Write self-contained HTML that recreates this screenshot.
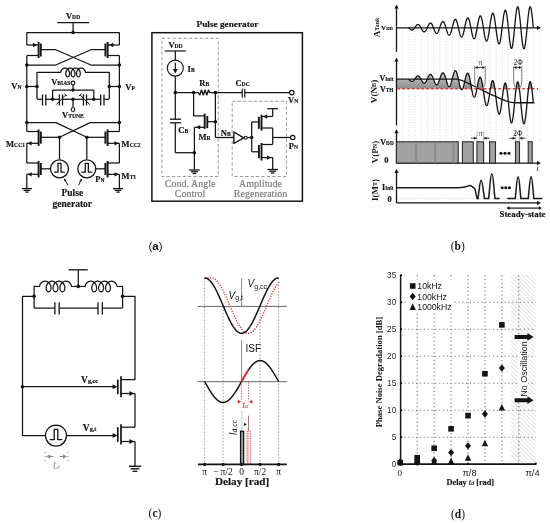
<!DOCTYPE html>
<html><head><meta charset="utf-8"><title>Figure</title>
<style>html,body{margin:0;padding:0;background:#fff;overflow:hidden;}svg{display:block;}</style>
</head><body>
<svg width="550" height="523" viewBox="0 0 550 523" stroke-linecap="butt">
<text x="73.1" y="19.2" font-family="'Liberation Serif', serif" font-size="8.5" font-weight="bold" font-style="normal" text-anchor="middle" fill="#141414" stroke="#141414" stroke-width="0.16">V<tspan font-size="66%">DD</tspan></text>
<line x1="57.3" y1="22.6" x2="89.2" y2="22.6" stroke="#141414" stroke-width="1.2"/>
<line x1="73.1" y1="22.6" x2="73.1" y2="32.5" stroke="#141414" stroke-width="1.25"/>
<circle cx="73.1" cy="32.5" r="1.8" fill="#141414"/>
<line x1="26.8" y1="32.5" x2="119.4" y2="32.5" stroke="#141414" stroke-width="1.25"/>
<line x1="26.8" y1="32.5" x2="26.8" y2="45" stroke="#141414" stroke-width="1.25"/>
<line x1="26.8" y1="45" x2="38.6" y2="45" stroke="#141414" stroke-width="1.25"/>
<path d="M37.1,45 L32.9,47.2 L32.9,42.8 Z" fill="#141414"/>
<line x1="38.6" y1="42" x2="38.6" y2="58" stroke="#141414" stroke-width="1.9"/>
<line x1="40.8" y1="43.5" x2="40.8" y2="56.5" stroke="#141414" stroke-width="1.9"/>
<line x1="38.6" y1="55.5" x2="26.8" y2="55.5" stroke="#141414" stroke-width="1.25"/>
<line x1="26.8" y1="55.5" x2="26.8" y2="131.5" stroke="#141414" stroke-width="1.25"/>
<line x1="26.8" y1="131.5" x2="38.6" y2="131.5" stroke="#141414" stroke-width="1.25"/>
<line x1="38.6" y1="129.4" x2="38.6" y2="145.9" stroke="#141414" stroke-width="1.9"/>
<line x1="40.8" y1="131.5" x2="40.8" y2="143.7" stroke="#141414" stroke-width="1.9"/>
<line x1="38.6" y1="143.3" x2="26.8" y2="143.3" stroke="#141414" stroke-width="1.25"/>
<path d="M27.5,143.3 L31.7,141.2 L31.7,145.4 Z" fill="#141414"/>
<line x1="26.8" y1="143.3" x2="26.8" y2="163" stroke="#141414" stroke-width="1.25"/>
<line x1="26.8" y1="163" x2="38.6" y2="163" stroke="#141414" stroke-width="1.25"/>
<line x1="38.6" y1="161" x2="38.6" y2="177.4" stroke="#141414" stroke-width="1.9"/>
<line x1="40.8" y1="163" x2="40.8" y2="175" stroke="#141414" stroke-width="1.9"/>
<line x1="38.6" y1="174.3" x2="26.8" y2="174.3" stroke="#141414" stroke-width="1.25"/>
<path d="M27.5,174.3 L31.7,172.2 L31.7,176.4 Z" fill="#141414"/>
<line x1="26.8" y1="174.3" x2="26.8" y2="188.5" stroke="#141414" stroke-width="1.25"/>
<line x1="22" y1="188.6" x2="32" y2="188.6" stroke="#141414" stroke-width="1.3"/>
<line x1="23.7" y1="190.35" x2="30.3" y2="190.35" stroke="#141414" stroke-width="1.3"/>
<line x1="25.3" y1="192.1" x2="28.7" y2="192.1" stroke="#141414" stroke-width="1.3"/>
<line x1="40.8" y1="137.3" x2="59.5" y2="137.3" stroke="#141414" stroke-width="1.25"/>
<circle cx="59.5" cy="137.3" r="1.8" fill="#141414"/>
<line x1="59.5" y1="137.3" x2="59.5" y2="159.8" stroke="#141414" stroke-width="1.25"/>
<circle cx="59.5" cy="168.8" r="9" fill="#fff" stroke="#141414" stroke-width="1.35"/>
<path d="M54.1,172.22 L57.97,172.22 L57.97,163.4 L61.03,163.4 L61.03,172.22 L64.9,172.22" fill="none" stroke="#141414" stroke-width="1.3" stroke-linejoin="round" stroke-linejoin="miter"/>
<line x1="40.8" y1="168.8" x2="50.5" y2="168.8" stroke="#141414" stroke-width="1.25"/>
<circle cx="26.8" cy="65" r="1.8" fill="#141414"/>
<circle cx="26.8" cy="86.5" r="1.8" fill="#141414"/>
<circle cx="26.8" cy="122.6" r="1.8" fill="#141414"/>
<line x1="119.4" y1="32.5" x2="119.4" y2="45" stroke="#141414" stroke-width="1.25"/>
<line x1="119.4" y1="45" x2="107.6" y2="45" stroke="#141414" stroke-width="1.25"/>
<path d="M109.1,45 L113.3,42.8 L113.3,47.2 Z" fill="#141414"/>
<line x1="107.6" y1="42" x2="107.6" y2="58" stroke="#141414" stroke-width="1.9"/>
<line x1="105.4" y1="43.5" x2="105.4" y2="56.5" stroke="#141414" stroke-width="1.9"/>
<line x1="107.6" y1="55.5" x2="119.4" y2="55.5" stroke="#141414" stroke-width="1.25"/>
<line x1="119.4" y1="55.5" x2="119.4" y2="131.5" stroke="#141414" stroke-width="1.25"/>
<line x1="119.4" y1="131.5" x2="107.6" y2="131.5" stroke="#141414" stroke-width="1.25"/>
<line x1="107.6" y1="129.4" x2="107.6" y2="145.9" stroke="#141414" stroke-width="1.9"/>
<line x1="105.4" y1="131.5" x2="105.4" y2="143.7" stroke="#141414" stroke-width="1.9"/>
<line x1="107.6" y1="143.3" x2="119.4" y2="143.3" stroke="#141414" stroke-width="1.25"/>
<path d="M118.7,143.3 L114.5,145.4 L114.5,141.2 Z" fill="#141414"/>
<line x1="119.4" y1="143.3" x2="119.4" y2="163" stroke="#141414" stroke-width="1.25"/>
<line x1="119.4" y1="163" x2="107.6" y2="163" stroke="#141414" stroke-width="1.25"/>
<line x1="107.6" y1="161" x2="107.6" y2="177.4" stroke="#141414" stroke-width="1.9"/>
<line x1="105.4" y1="163" x2="105.4" y2="175" stroke="#141414" stroke-width="1.9"/>
<line x1="107.6" y1="174.3" x2="119.4" y2="174.3" stroke="#141414" stroke-width="1.25"/>
<path d="M118.7,174.3 L114.5,176.4 L114.5,172.2 Z" fill="#141414"/>
<line x1="119.4" y1="174.3" x2="119.4" y2="188.5" stroke="#141414" stroke-width="1.25"/>
<line x1="113" y1="188.6" x2="123" y2="188.6" stroke="#141414" stroke-width="1.3"/>
<line x1="114.7" y1="190.35" x2="121.3" y2="190.35" stroke="#141414" stroke-width="1.3"/>
<line x1="116.3" y1="192.1" x2="119.7" y2="192.1" stroke="#141414" stroke-width="1.3"/>
<line x1="105.4" y1="137.3" x2="86.8" y2="137.3" stroke="#141414" stroke-width="1.25"/>
<circle cx="86.8" cy="137.3" r="1.8" fill="#141414"/>
<line x1="86.8" y1="137.3" x2="86.8" y2="159.8" stroke="#141414" stroke-width="1.25"/>
<circle cx="86.8" cy="168.8" r="9" fill="#fff" stroke="#141414" stroke-width="1.35"/>
<path d="M81.4,172.22 L85.27,172.22 L85.27,163.4 L88.33,163.4 L88.33,172.22 L92.2,172.22" fill="none" stroke="#141414" stroke-width="1.3" stroke-linejoin="round" stroke-linejoin="miter"/>
<line x1="105.4" y1="168.8" x2="95.8" y2="168.8" stroke="#141414" stroke-width="1.25"/>
<circle cx="119.4" cy="65" r="1.8" fill="#141414"/>
<circle cx="119.4" cy="86.5" r="1.8" fill="#141414"/>
<circle cx="119.4" cy="122.6" r="1.8" fill="#141414"/>
<path d="M40.8,49.7 L55.7,49.7 L91,65 L119.4,65" fill="none" stroke="#141414" stroke-width="1.25" stroke-linejoin="round"/>
<path d="M105.4,49.7 L91,49.7 L55.7,65 L26.8,65" fill="none" stroke="#141414" stroke-width="1.25" stroke-linejoin="round"/>
<path d="M26.8,122.6 L56,122.6 L86.8,137.3" fill="none" stroke="#141414" stroke-width="1.25" stroke-linejoin="round"/>
<path d="M119.4,122.6 L90.2,122.6 L59.5,137.3" fill="none" stroke="#141414" stroke-width="1.25" stroke-linejoin="round"/>
<line x1="26.8" y1="86.5" x2="37" y2="86.5" stroke="#141414" stroke-width="1.25"/>
<circle cx="37" cy="86.5" r="1.8" fill="#141414"/>
<line x1="119.4" y1="86.5" x2="109.3" y2="86.5" stroke="#141414" stroke-width="1.25"/>
<circle cx="109.3" cy="86.5" r="1.8" fill="#141414"/>
<path d="M37,99 L37,72.4 L60.6,72.4 L60.65,72.16 L60.71,71.92 L60.78,71.68 L60.86,71.44 L60.95,71.21 L61.05,70.97 L61.15,70.75 L61.27,70.53 L61.39,70.31 L61.52,70.1 L61.66,69.9 L61.81,69.7 L61.97,69.52 L62.13,69.34 L62.3,69.17 L62.47,69.01 L62.65,68.86 L62.84,68.72 L63.03,68.6 L63.23,68.48 L63.43,68.38 L63.63,68.28 L63.84,68.2 L64.05,68.14 L64.26,68.08 L64.48,68.04 L64.69,68.02 L64.91,68 L65.13,68 L65.35,68.01 L65.56,68.04 L65.78,68.08 L65.99,68.13 L66.2,68.19 L66.41,68.27 L66.61,68.36 L66.81,68.46 L67.01,68.58 L67.2,68.7 L67.39,68.84 L67.57,68.99 L67.75,69.15 L67.92,69.31 L68.08,69.49 L68.24,69.68 L68.39,69.87 L68.53,70.07 L68.66,70.28 L68.78,70.5 L68.9,70.72 L69.01,70.94 L69.11,71.17 L69.2,71.41 L69.28,71.64 L69.35,71.88 L69.41,72.12 L69.46,72.37 L69.51,72.61 L69.54,72.85 L69.57,73.09 L69.58,73.33 L69.59,73.56 L69.58,73.79 L69.57,74.02 L69.55,74.24 L69.52,74.46 L69.49,74.67 L69.44,74.87 L69.39,75.07 L69.33,75.26 L69.26,75.44 L69.19,75.61 L69.11,75.77 L69.02,75.92 L68.93,76.06 L68.83,76.19 L68.73,76.3 L68.62,76.41 L68.51,76.5 L68.4,76.58 L68.28,76.65 L68.16,76.71 L68.04,76.75 L67.92,76.78 L67.79,76.8 L67.67,76.8 L67.55,76.79 L67.42,76.77 L67.3,76.73 L67.18,76.68 L67.06,76.62 L66.95,76.54 L66.84,76.45 L66.73,76.35 L66.62,76.24 L66.53,76.12 L66.43,75.98 L66.34,75.83 L66.26,75.68 L66.18,75.51 L66.11,75.34 L66.05,75.15 L65.99,74.96 L65.94,74.76 L65.9,74.55 L65.87,74.34 L65.85,74.12 L65.83,73.89 L65.82,73.66 L65.83,73.43 L65.84,73.19 L65.86,72.95 L65.89,72.71 L65.93,72.47 L65.98,72.23 L66.03,71.99 L66.1,71.75 L66.18,71.51 L66.26,71.27 L66.36,71.04 L66.46,70.81 L66.58,70.59 L66.7,70.37 L66.83,70.16 L66.96,69.96 L67.11,69.76 L67.26,69.57 L67.42,69.39 L67.59,69.22 L67.76,69.05 L67.94,68.9 L68.13,68.76 L68.32,68.63 L68.51,68.51 L68.71,68.4 L68.91,68.31 L69.12,68.23 L69.33,68.16 L69.54,68.1 L69.76,68.05 L69.97,68.02 L70.19,68 L70.41,68 L70.62,68.01 L70.84,68.03 L71.06,68.07 L71.27,68.11 L71.48,68.17 L71.69,68.25 L71.9,68.33 L72.1,68.43 L72.3,68.54 L72.49,68.67 L72.68,68.8 L72.86,68.94 L73.04,69.1 L73.21,69.26 L73.38,69.44 L73.53,69.62 L73.68,69.81 L73.83,70.01 L73.96,70.22 L74.09,70.43 L74.21,70.65 L74.32,70.88 L74.42,71.11 L74.51,71.34 L74.6,71.58 L74.67,71.81 L74.73,72.05 L74.79,72.3 L74.84,72.54 L74.87,72.78 L74.9,73.02 L74.92,73.26 L74.93,73.49 L74.93,73.73 L74.92,73.96 L74.9,74.18 L74.87,74.4 L74.84,74.61 L74.8,74.82 L74.75,75.01 L74.69,75.2 L74.62,75.39 L74.55,75.56 L74.47,75.72 L74.39,75.88 L74.29,76.02 L74.2,76.15 L74.1,76.27 L73.99,76.38 L73.88,76.48 L73.77,76.56 L73.65,76.63 L73.54,76.69 L73.42,76.74 L73.29,76.77 L73.17,76.79 L73.05,76.8 L72.92,76.79 L72.8,76.77 L72.68,76.74 L72.56,76.69 L72.44,76.63 L72.32,76.56 L72.21,76.48 L72.1,76.38 L71.99,76.27 L71.89,76.15 L71.8,76.02 L71.71,75.88 L71.62,75.72 L71.54,75.56 L71.47,75.39 L71.41,75.2 L71.35,75.01 L71.3,74.82 L71.25,74.61 L71.22,74.4 L71.19,74.18 L71.17,73.96 L71.17,73.73 L71.17,73.49 L71.17,73.26 L71.19,73.02 L71.22,72.78 L71.26,72.54 L71.3,72.3 L71.36,72.05 L71.42,71.81 L71.5,71.58 L71.58,71.34 L71.67,71.11 L71.77,70.88 L71.88,70.65 L72,70.43 L72.13,70.22 L72.26,70.01 L72.41,69.81 L72.56,69.62 L72.72,69.44 L72.88,69.26 L73.05,69.1 L73.23,68.94 L73.41,68.8 L73.6,68.67 L73.8,68.54 L73.99,68.43 L74.2,68.33 L74.4,68.25 L74.61,68.17 L74.82,68.11 L75.04,68.07 L75.25,68.03 L75.47,68.01 L75.69,68 L75.9,68 L76.12,68.02 L76.34,68.05 L76.55,68.1 L76.76,68.16 L76.97,68.23 L77.18,68.31 L77.38,68.4 L77.58,68.51 L77.78,68.63 L77.97,68.76 L78.15,68.9 L78.33,69.05 L78.5,69.22 L78.67,69.39 L78.83,69.57 L78.98,69.76 L79.13,69.96 L79.27,70.16 L79.4,70.37 L79.52,70.59 L79.63,70.81 L79.73,71.04 L79.83,71.27 L79.91,71.51 L79.99,71.75 L80.06,71.99 L80.12,72.23 L80.16,72.47 L80.2,72.71 L80.23,72.95 L80.25,73.19 L80.27,73.43 L80.27,73.66 L80.26,73.89 L80.25,74.12 L80.22,74.34 L80.19,74.55 L80.15,74.76 L80.1,74.96 L80.05,75.15 L79.98,75.34 L79.91,75.51 L79.83,75.68 L79.75,75.83 L79.66,75.98 L79.57,76.12 L79.47,76.24 L79.36,76.35 L79.26,76.45 L79.14,76.54 L79.03,76.62 L78.91,76.68 L78.79,76.73 L78.67,76.77 L78.55,76.79 L78.42,76.8 L78.3,76.8 L78.18,76.78 L78.05,76.75 L77.93,76.71 L77.81,76.65 L77.7,76.58 L77.58,76.5 L77.47,76.41 L77.37,76.3 L77.26,76.19 L77.17,76.06 L77.07,75.92 L76.99,75.77 L76.91,75.61 L76.83,75.44 L76.76,75.26 L76.7,75.07 L76.65,74.87 L76.61,74.67 L76.57,74.46 L76.54,74.24 L76.52,74.02 L76.51,73.79 L76.51,73.56 L76.51,73.33 L76.53,73.09 L76.55,72.85 L76.59,72.61 L76.63,72.37 L76.68,72.12 L76.74,71.88 L76.82,71.64 L76.9,71.41 L76.99,71.17 L77.08,70.94 L77.19,70.72 L77.31,70.5 L77.43,70.28 L77.57,70.07 L77.71,69.87 L77.86,69.68 L78.01,69.49 L78.17,69.31 L78.34,69.15 L78.52,68.99 L78.7,68.84 L78.89,68.7 L79.08,68.58 L79.28,68.46 L79.48,68.36 L79.68,68.27 L79.89,68.19 L80.1,68.13 L80.32,68.08 L80.53,68.04 L80.75,68.01 L80.96,68 L81.18,68 L81.4,68.02 L81.61,68.04 L81.83,68.08 L82.04,68.14 L82.25,68.2 L82.46,68.28 L82.66,68.38 L82.87,68.48 L83.06,68.6 L83.25,68.72 L83.44,68.86 L83.62,69.01 L83.8,69.17 L83.96,69.34 L84.13,69.52 L84.28,69.7 L84.43,69.9 L84.57,70.1 L84.7,70.31 L84.82,70.53 L84.94,70.75 L85.04,70.97 L85.14,71.21 L85.23,71.44 L85.31,71.68 L85.38,71.92 L85.44,72.16 L85.49,72.4 L109.3,72.4 L109.3,99" fill="none" stroke="#141414" stroke-width="1.25" stroke-linejoin="round"/>
<line x1="37" y1="99.3" x2="42.5" y2="99.3" stroke="#141414" stroke-width="1.25"/>
<line x1="42.5" y1="94.4" x2="42.5" y2="105.5" stroke="#141414" stroke-width="1.3"/>
<line x1="45.8" y1="94.4" x2="45.8" y2="105.5" stroke="#141414" stroke-width="1.3"/>
<line x1="45.8" y1="99.3" x2="59.4" y2="99.3" stroke="#141414" stroke-width="1.25"/>
<line x1="59.4" y1="94.4" x2="59.4" y2="105.5" stroke="#141414" stroke-width="1.3"/>
<line x1="62.5" y1="94.4" x2="62.5" y2="105.5" stroke="#141414" stroke-width="1.3"/>
<line x1="56.15" y1="104.7" x2="65.75" y2="94.9" stroke="#141414" stroke-width="1"/>
<line x1="64.39" y1="93.57" x2="67.11" y2="96.23" stroke="#141414" stroke-width="1"/>
<line x1="62.5" y1="99.3" x2="83.4" y2="99.3" stroke="#141414" stroke-width="1.25"/>
<line x1="83.4" y1="94.4" x2="83.4" y2="105.5" stroke="#141414" stroke-width="1.3"/>
<line x1="86.5" y1="94.4" x2="86.5" y2="105.5" stroke="#141414" stroke-width="1.3"/>
<line x1="89.75" y1="104.7" x2="80.15" y2="94.9" stroke="#141414" stroke-width="1"/>
<line x1="78.79" y1="96.23" x2="81.51" y2="93.57" stroke="#141414" stroke-width="1"/>
<line x1="86.5" y1="99.3" x2="100.7" y2="99.3" stroke="#141414" stroke-width="1.25"/>
<line x1="100.7" y1="94.4" x2="100.7" y2="105.5" stroke="#141414" stroke-width="1.3"/>
<line x1="104" y1="94.4" x2="104" y2="105.5" stroke="#141414" stroke-width="1.3"/>
<line x1="104" y1="99.3" x2="109.3" y2="99.3" stroke="#141414" stroke-width="1.25"/>
<circle cx="52.6" cy="99.3" r="1.8" fill="#141414"/>
<circle cx="73" cy="99.3" r="1.8" fill="#141414"/>
<circle cx="93.8" cy="99.3" r="1.8" fill="#141414"/>
<line x1="52.6" y1="90" x2="93.8" y2="90" stroke="#141414" stroke-width="1.25"/>
<line x1="52.6" y1="90" x2="52.6" y2="99.3" stroke="#141414" stroke-width="1.25"/>
<line x1="93.8" y1="90" x2="93.8" y2="99.3" stroke="#141414" stroke-width="1.25"/>
<circle cx="73" cy="90" r="1.8" fill="#141414"/>
<line x1="73" y1="90" x2="73" y2="84.8" stroke="#141414" stroke-width="1.25"/>
<circle cx="73" cy="83" r="1.9" fill="#fff" stroke="#141414" stroke-width="1.1"/>
<text x="70.4" y="85.2" font-family="'Liberation Serif', serif" font-size="8.5" font-weight="bold" font-style="normal" text-anchor="end" fill="#141414" stroke="#141414" stroke-width="0.16">V<tspan font-size="66%">BIAS</tspan></text>
<line x1="73" y1="99.3" x2="73" y2="107.6" stroke="#141414" stroke-width="1.25"/>
<circle cx="73" cy="109.6" r="1.9" fill="#fff" stroke="#141414" stroke-width="1.1"/>
<text x="72.9" y="118.4" font-family="'Liberation Serif', serif" font-size="8.5" font-weight="bold" font-style="normal" text-anchor="middle" fill="#141414" stroke="#141414" stroke-width="0.16">V<tspan font-size="66%">TUNE</tspan></text>
<text x="21.5" y="89.4" font-family="'Liberation Serif', serif" font-size="8.5" font-weight="bold" font-style="normal" text-anchor="end" fill="#141414" stroke="#141414" stroke-width="0.16">V<tspan font-size="66%">N</tspan></text>
<text x="125.3" y="89.6" font-family="'Liberation Serif', serif" font-size="8.5" font-weight="bold" font-style="normal" text-anchor="start" fill="#141414" stroke="#141414" stroke-width="0.16">V<tspan font-size="66%">P</tspan></text>
<text x="25" y="147.4" font-family="'Liberation Serif', serif" font-size="8.5" font-weight="bold" font-style="normal" text-anchor="end" fill="#141414" stroke="#141414" stroke-width="0.16">M<tspan font-size="66%">CC1</tspan></text>
<text x="121.6" y="147.4" font-family="'Liberation Serif', serif" font-size="8.5" font-weight="bold" font-style="normal" text-anchor="start" fill="#141414" stroke="#141414" stroke-width="0.16">M<tspan font-size="66%">CC2</tspan></text>
<text x="121.6" y="179.4" font-family="'Liberation Serif', serif" font-size="8.5" font-weight="bold" font-style="normal" text-anchor="start" fill="#141414" stroke="#141414" stroke-width="0.16">M<tspan font-size="66%">T1</tspan></text>
<text x="95.3" y="181.8" font-family="'Liberation Serif', serif" font-size="8.5" font-weight="bold" font-style="normal" text-anchor="start" fill="#141414" stroke="#141414" stroke-width="0.16">P<tspan font-size="66%">N</tspan></text>
<text x="72.3" y="196.2" font-family="'Liberation Serif', serif" font-size="9.5" font-weight="bold" font-style="normal" text-anchor="middle" fill="#141414" stroke="#141414" stroke-width="0.16">Pulse</text>
<text x="72.3" y="206.6" font-family="'Liberation Serif', serif" font-size="9.5" font-weight="bold" font-style="normal" text-anchor="middle" fill="#141414" stroke="#141414" stroke-width="0.16">generator</text>
<line x1="64.8" y1="179.8" x2="68" y2="185.2" stroke="#141414" stroke-width="1"/>
<path d="M64,178.4 L66.39,180.05 L64.11,181.3 Z" fill="#141414"/>
<line x1="81" y1="179.8" x2="78.6" y2="185.2" stroke="#141414" stroke-width="1"/>
<path d="M81.7,178.4 L81.82,181.3 L79.45,180.24 Z" fill="#141414"/>
<text x="227.5" y="27.1" font-family="'Liberation Serif', serif" font-size="9.25" font-weight="bold" font-style="normal" text-anchor="middle" fill="#141414" stroke="#141414" stroke-width="0.16">Pulse generator</text>
<rect x="151.9" y="32.7" width="150.5" height="168.5" fill="none" stroke="#141414" stroke-width="1.5"/>
<rect x="161.9" y="38.3" width="56.3" height="138.2" fill="none" stroke="#999" stroke-width="1" stroke-dasharray="3.2,2.2"/>
<rect x="232.2" y="101.3" width="54.2" height="75.2" fill="none" stroke="#999" stroke-width="1" stroke-dasharray="3.2,2.2"/>
<text x="175.5" y="47.6" font-family="'Liberation Serif', serif" font-size="8.5" font-weight="bold" font-style="normal" text-anchor="middle" fill="#141414" stroke="#141414" stroke-width="0.16">V<tspan font-size="66%">DD</tspan></text>
<line x1="164.6" y1="51" x2="185.8" y2="51" stroke="#141414" stroke-width="1.2"/>
<line x1="175.3" y1="51" x2="175.3" y2="60.1" stroke="#141414" stroke-width="1.25"/>
<circle cx="175.3" cy="68.1" r="8" fill="#fff" stroke="#141414" stroke-width="1.1"/>
<line x1="175.3" y1="62.8" x2="175.3" y2="70" stroke="#141414" stroke-width="1.2"/>
<path d="M175.3,73.6 L172.9,69 L177.7,69 Z" fill="#141414"/>
<line x1="175.3" y1="76.1" x2="175.3" y2="119.2" stroke="#141414" stroke-width="1.25"/>
<text x="187.6" y="72" font-family="'Liberation Serif', serif" font-size="8.5" font-weight="bold" font-style="normal" text-anchor="start" fill="#141414" stroke="#141414" stroke-width="0.16">I<tspan font-size="66%">B</tspan></text>
<line x1="175.3" y1="92.6" x2="198.6" y2="92.6" stroke="#141414" stroke-width="1.25"/>
<path d="M198.4,92.6 L199.8,94.9 L201.5,90.1 L203.3,94.9 L205,90.1 L206.8,94.9 L208.5,90.1 L209.7,92.6" fill="none" stroke="#141414" stroke-width="1.35" stroke-linejoin="round" stroke-linejoin="miter"/>
<line x1="209.6" y1="92.6" x2="242.2" y2="92.6" stroke="#141414" stroke-width="1.25"/>
<line x1="242.2" y1="88.8" x2="242.2" y2="97.6" stroke="#141414" stroke-width="1.2"/>
<line x1="244.8" y1="88.8" x2="244.8" y2="97.6" stroke="#141414" stroke-width="1.2"/>
<line x1="244.8" y1="92.6" x2="289.6" y2="92.6" stroke="#141414" stroke-width="1.25"/>
<circle cx="291.8" cy="92.6" r="2.2" fill="#fff" stroke="#141414" stroke-width="1.2"/>
<circle cx="175.3" cy="92.6" r="1.8" fill="#141414"/>
<circle cx="193.6" cy="92.6" r="1.8" fill="#141414"/>
<circle cx="215.4" cy="92.6" r="1.8" fill="#141414"/>
<text x="204.3" y="86.4" font-family="'Liberation Serif', serif" font-size="8.5" font-weight="bold" font-style="normal" text-anchor="middle" fill="#141414" stroke="#141414" stroke-width="0.16">R<tspan font-size="66%">B</tspan></text>
<text x="242.6" y="86.2" font-family="'Liberation Serif', serif" font-size="8.5" font-weight="bold" font-style="normal" text-anchor="middle" fill="#141414" stroke="#141414" stroke-width="0.16">C<tspan font-size="66%">DC</tspan></text>
<text x="288" y="102.6" font-family="'Liberation Serif', serif" font-size="8.5" font-weight="bold" font-style="normal" text-anchor="start" fill="#141414" stroke="#141414" stroke-width="0.16">V<tspan font-size="66%">N</tspan></text>
<line x1="169.9" y1="119.2" x2="181.1" y2="119.2" stroke="#141414" stroke-width="1.3"/>
<line x1="169.9" y1="122.8" x2="181.1" y2="122.8" stroke="#141414" stroke-width="1.3"/>
<line x1="175.3" y1="122.8" x2="175.3" y2="152.7" stroke="#141414" stroke-width="1.25"/>
<line x1="175.3" y1="152.7" x2="194.4" y2="152.7" stroke="#141414" stroke-width="1.25"/>
<circle cx="194.4" cy="152.7" r="1.8" fill="#141414"/>
<text x="178.3" y="132.6" font-family="'Liberation Serif', serif" font-size="8.5" font-weight="bold" font-style="normal" text-anchor="start" fill="#141414" stroke="#141414" stroke-width="0.16">C<tspan font-size="66%">B</tspan></text>
<line x1="193.6" y1="92.6" x2="193.6" y2="115.9" stroke="#141414" stroke-width="1.25"/>
<line x1="193.6" y1="115.9" x2="204.7" y2="115.9" stroke="#141414" stroke-width="1.25"/>
<line x1="204.7" y1="113.6" x2="204.7" y2="128.9" stroke="#141414" stroke-width="1.9"/>
<line x1="207.3" y1="115.9" x2="207.3" y2="128.1" stroke="#141414" stroke-width="1.9"/>
<line x1="207.3" y1="121.7" x2="215.4" y2="121.7" stroke="#141414" stroke-width="1.25"/>
<circle cx="215.4" cy="121.7" r="1.8" fill="#141414"/>
<line x1="204.7" y1="127.3" x2="194.4" y2="127.3" stroke="#141414" stroke-width="1.25"/>
<path d="M196,127.3 L200.2,125.1 L200.2,129.5 Z" fill="#141414"/>
<line x1="194.4" y1="127.3" x2="194.4" y2="169.8" stroke="#141414" stroke-width="1.25"/>
<line x1="189.15" y1="170" x2="199.65" y2="170" stroke="#141414" stroke-width="1.3"/>
<line x1="190.94" y1="171.75" x2="197.87" y2="171.75" stroke="#141414" stroke-width="1.3"/>
<line x1="192.62" y1="173.5" x2="196.19" y2="173.5" stroke="#141414" stroke-width="1.3"/>
<text x="198.4" y="139.5" font-family="'Liberation Serif', serif" font-size="8.5" font-weight="bold" font-style="normal" text-anchor="start" fill="#141414" stroke="#141414" stroke-width="0.16">M<tspan font-size="66%">R</tspan></text>
<line x1="215.4" y1="92.6" x2="215.4" y2="137.5" stroke="#141414" stroke-width="1.25"/>
<line x1="215.4" y1="137.5" x2="233.9" y2="137.5" stroke="#141414" stroke-width="1.25"/>
<text x="220.8" y="136.2" font-family="'Liberation Serif', serif" font-size="8.5" font-weight="bold" font-style="normal" text-anchor="start" fill="#141414" stroke="#141414" stroke-width="0.16">N<tspan font-size="66%">B</tspan></text>
<path d="M233.9,132 L233.9,143.5 L243.6,137.8Z" fill="none" stroke="#141414" stroke-width="1.4" stroke-linejoin="round"/>
<circle cx="245.6" cy="137.8" r="1.5" fill="#fff" stroke="#141414" stroke-width="1.1"/>
<line x1="247.2" y1="137.6" x2="251.7" y2="137.6" stroke="#141414" stroke-width="1.25"/>
<circle cx="251.7" cy="137.6" r="1.8" fill="#141414"/>
<line x1="251.7" y1="122" x2="251.7" y2="151.8" stroke="#141414" stroke-width="1.25"/>
<line x1="251.7" y1="122" x2="258.9" y2="122" stroke="#141414" stroke-width="1.25"/>
<line x1="251.7" y1="151.8" x2="258.9" y2="151.8" stroke="#141414" stroke-width="1.25"/>
<line x1="261.5" y1="114.7" x2="261.5" y2="130.6" stroke="#141414" stroke-width="1.9"/>
<line x1="258.9" y1="116.8" x2="258.9" y2="128.8" stroke="#141414" stroke-width="1.9"/>
<line x1="261.5" y1="116.5" x2="272.7" y2="116.5" stroke="#141414" stroke-width="1.25"/>
<path d="M263,116.5 L267.2,114.3 L267.2,118.7 Z" fill="#141414"/>
<line x1="272.7" y1="116.5" x2="272.7" y2="108.7" stroke="#141414" stroke-width="1.25"/>
<line x1="267.3" y1="108.7" x2="278" y2="108.7" stroke="#141414" stroke-width="1.2"/>
<line x1="261.5" y1="128" x2="272.7" y2="128" stroke="#141414" stroke-width="1.25"/>
<line x1="272.7" y1="128" x2="272.7" y2="144.5" stroke="#141414" stroke-width="1.25"/>
<line x1="272.7" y1="137.5" x2="290.5" y2="137.5" stroke="#141414" stroke-width="1.25"/>
<circle cx="292.7" cy="137.5" r="2.2" fill="#fff" stroke="#141414" stroke-width="1.2"/>
<text x="288.7" y="149" font-family="'Liberation Serif', serif" font-size="8.5" font-weight="bold" font-style="normal" text-anchor="start" fill="#141414" stroke="#141414" stroke-width="0.16">P<tspan font-size="66%">N</tspan></text>
<line x1="261.5" y1="143" x2="261.5" y2="160.5" stroke="#141414" stroke-width="1.9"/>
<line x1="258.9" y1="145" x2="258.9" y2="158.3" stroke="#141414" stroke-width="1.9"/>
<line x1="261.5" y1="144.5" x2="272.7" y2="144.5" stroke="#141414" stroke-width="1.25"/>
<line x1="261.5" y1="157.6" x2="272.7" y2="157.6" stroke="#141414" stroke-width="1.25"/>
<path d="M271.2,157.6 L267,159.8 L267,155.4 Z" fill="#141414"/>
<line x1="272.7" y1="157.6" x2="272.7" y2="169.3" stroke="#141414" stroke-width="1.25"/>
<line x1="267.45" y1="169.5" x2="277.95" y2="169.5" stroke="#141414" stroke-width="1.3"/>
<line x1="269.24" y1="171.25" x2="276.16" y2="171.25" stroke="#141414" stroke-width="1.3"/>
<line x1="270.91" y1="173" x2="274.49" y2="173" stroke="#141414" stroke-width="1.3"/>
<text x="190.1" y="186.6" font-family="'Liberation Serif', serif" font-size="10" font-weight="normal" font-style="normal" text-anchor="middle" fill="#7e7e7e" stroke="#7e7e7e" stroke-width="0.2">Cond. Angle</text>
<text x="190.1" y="196.8" font-family="'Liberation Serif', serif" font-size="10" font-weight="normal" font-style="normal" text-anchor="middle" fill="#7e7e7e" stroke="#7e7e7e" stroke-width="0.2">Control</text>
<text x="260.5" y="186.6" font-family="'Liberation Serif', serif" font-size="10" font-weight="normal" font-style="normal" text-anchor="middle" fill="#7e7e7e" stroke="#7e7e7e" stroke-width="0.2">Amplitude</text>
<text x="260.5" y="196.8" font-family="'Liberation Serif', serif" font-size="10" font-weight="normal" font-style="normal" text-anchor="middle" fill="#7e7e7e" stroke="#7e7e7e" stroke-width="0.2">Regeneration</text>
<line x1="402.5" y1="31" x2="402.5" y2="141.5" stroke="#b8b8b8" stroke-width="0.6" stroke-dasharray="0.9,1.7"/>
<line x1="408.74" y1="31" x2="408.74" y2="141.5" stroke="#b8b8b8" stroke-width="0.6" stroke-dasharray="0.9,1.7"/>
<line x1="414.98" y1="31" x2="414.98" y2="141.5" stroke="#b8b8b8" stroke-width="0.6" stroke-dasharray="0.9,1.7"/>
<line x1="421.22" y1="31" x2="421.22" y2="141.5" stroke="#b8b8b8" stroke-width="0.6" stroke-dasharray="0.9,1.7"/>
<line x1="427.46" y1="31" x2="427.46" y2="141.5" stroke="#b8b8b8" stroke-width="0.6" stroke-dasharray="0.9,1.7"/>
<line x1="433.7" y1="31" x2="433.7" y2="141.5" stroke="#b8b8b8" stroke-width="0.6" stroke-dasharray="0.9,1.7"/>
<line x1="439.94" y1="31" x2="439.94" y2="141.5" stroke="#b8b8b8" stroke-width="0.6" stroke-dasharray="0.9,1.7"/>
<line x1="446.18" y1="31" x2="446.18" y2="141.5" stroke="#b8b8b8" stroke-width="0.6" stroke-dasharray="0.9,1.7"/>
<line x1="452.42" y1="31" x2="452.42" y2="141.5" stroke="#b8b8b8" stroke-width="0.6" stroke-dasharray="0.9,1.7"/>
<line x1="458.66" y1="31" x2="458.66" y2="141.5" stroke="#b8b8b8" stroke-width="0.6" stroke-dasharray="0.9,1.7"/>
<line x1="464.9" y1="31" x2="464.9" y2="141.5" stroke="#b8b8b8" stroke-width="0.6" stroke-dasharray="0.9,1.7"/>
<line x1="471.14" y1="31" x2="471.14" y2="141.5" stroke="#b8b8b8" stroke-width="0.6" stroke-dasharray="0.9,1.7"/>
<line x1="477.38" y1="31" x2="477.38" y2="141.5" stroke="#b8b8b8" stroke-width="0.6" stroke-dasharray="0.9,1.7"/>
<line x1="483.62" y1="31" x2="483.62" y2="141.5" stroke="#b8b8b8" stroke-width="0.6" stroke-dasharray="0.9,1.7"/>
<line x1="489.86" y1="31" x2="489.86" y2="141.5" stroke="#b8b8b8" stroke-width="0.6" stroke-dasharray="0.9,1.7"/>
<line x1="496.1" y1="31" x2="496.1" y2="141.5" stroke="#b8b8b8" stroke-width="0.6" stroke-dasharray="0.9,1.7"/>
<line x1="502.34" y1="31" x2="502.34" y2="141.5" stroke="#b8b8b8" stroke-width="0.6" stroke-dasharray="0.9,1.7"/>
<line x1="508.58" y1="31" x2="508.58" y2="141.5" stroke="#b8b8b8" stroke-width="0.6" stroke-dasharray="0.9,1.7"/>
<line x1="514.82" y1="31" x2="514.82" y2="141.5" stroke="#b8b8b8" stroke-width="0.6" stroke-dasharray="0.9,1.7"/>
<line x1="521.06" y1="31" x2="521.06" y2="141.5" stroke="#b8b8b8" stroke-width="0.6" stroke-dasharray="0.9,1.7"/>
<line x1="527.3" y1="31" x2="527.3" y2="141.5" stroke="#b8b8b8" stroke-width="0.6" stroke-dasharray="0.9,1.7"/>
<line x1="533.54" y1="31" x2="533.54" y2="141.5" stroke="#b8b8b8" stroke-width="0.6" stroke-dasharray="0.9,1.7"/>
<line x1="539.78" y1="31" x2="539.78" y2="141.5" stroke="#b8b8b8" stroke-width="0.6" stroke-dasharray="0.9,1.7"/>
<line x1="396.5" y1="7" x2="396.5" y2="51.8" stroke="#141414" stroke-width="1.3"/>
<path d="M396.5,4.5 L398.6,8.5 L394.4,8.5 Z" fill="#141414"/>
<line x1="396.5" y1="27.8" x2="538.5" y2="27.8" stroke="#141414" stroke-width="1.3"/>
<path d="M541,27.8 L537,29.9 L537,25.7 Z" fill="#141414"/>
<path d="M408.5,27.8 L408.64,27.91 L408.78,28.02 L408.92,28.13 L409.05,28.25 L409.19,28.37 L409.33,28.49 L409.47,28.61 L409.61,28.73 L409.75,28.86 L409.89,28.97 L410.03,29.09 L410.16,29.21 L410.3,29.32 L410.44,29.42 L410.58,29.52 L410.72,29.62 L410.86,29.71 L411,29.79 L411.13,29.86 L411.27,29.92 L411.41,29.98 L411.55,30.02 L411.69,30.05 L411.83,30.07 L411.97,30.08 L412.11,30.08 L412.24,30.07 L412.38,30.04 L412.52,30 L412.66,29.95 L412.8,29.89 L412.94,29.81 L413.08,29.72 L413.21,29.62 L413.35,29.5 L413.49,29.38 L413.63,29.24 L413.77,29.09 L413.91,28.93 L414.05,28.76 L414.19,28.58 L414.32,28.39 L414.46,28.2 L414.6,28 L414.74,27.8 L414.88,27.6 L415.02,27.39 L415.16,27.19 L415.29,26.98 L415.43,26.78 L415.57,26.58 L415.71,26.39 L415.85,26.2 L415.99,26.01 L416.13,25.83 L416.27,25.66 L416.4,25.5 L416.54,25.35 L416.68,25.21 L416.82,25.08 L416.96,24.96 L417.1,24.85 L417.24,24.76 L417.37,24.68 L417.51,24.62 L417.65,24.57 L417.79,24.54 L417.93,24.52 L418.07,24.52 L418.21,24.54 L418.35,24.57 L418.48,24.62 L418.62,24.68 L418.76,24.76 L418.9,24.86 L419.04,24.97 L419.18,25.1 L419.32,25.24 L419.45,25.39 L419.59,25.56 L419.73,25.74 L419.87,25.94 L420.01,26.14 L420.15,26.36 L420.29,26.58 L420.43,26.81 L420.56,27.05 L420.7,27.3 L420.84,27.55 L420.98,27.8 L421.12,28.06 L421.26,28.31 L421.4,28.57 L421.53,28.83 L421.67,29.08 L421.81,29.33 L421.95,29.57 L422.09,29.81 L422.23,30.04 L422.37,30.26 L422.51,30.47 L422.64,30.66 L422.78,30.85 L422.92,31.02 L423.06,31.18 L423.2,31.32 L423.34,31.45 L423.48,31.56 L423.61,31.65 L423.75,31.73 L423.89,31.78 L424.03,31.82 L424.17,31.84 L424.31,31.83 L424.45,31.81 L424.59,31.77 L424.72,31.71 L424.86,31.62 L425,31.52 L425.14,31.4 L425.28,31.26 L425.42,31.1 L425.56,30.93 L425.69,30.74 L425.83,30.53 L425.97,30.3 L426.11,30.07 L426.25,29.82 L426.39,29.55 L426.53,29.28 L426.67,29 L426.8,28.71 L426.94,28.41 L427.08,28.11 L427.22,27.8 L427.36,27.49 L427.5,27.18 L427.64,26.87 L427.77,26.57 L427.91,26.26 L428.05,25.96 L428.19,25.67 L428.33,25.39 L428.47,25.12 L428.61,24.86 L428.75,24.61 L428.88,24.37 L429.02,24.15 L429.16,23.95 L429.3,23.76 L429.44,23.59 L429.58,23.44 L429.72,23.31 L429.85,23.21 L429.99,23.12 L430.13,23.06 L430.27,23.02 L430.41,23 L430.55,23.01 L430.69,23.04 L430.83,23.09 L430.96,23.17 L431.1,23.27 L431.24,23.39 L431.38,23.54 L431.52,23.71 L431.66,23.9 L431.8,24.11 L431.93,24.34 L432.07,24.58 L432.21,24.85 L432.35,25.13 L432.49,25.43 L432.63,25.74 L432.77,26.06 L432.91,26.39 L433.04,26.73 L433.18,27.08 L433.32,27.44 L433.46,27.8 L433.6,28.16 L433.74,28.52 L433.88,28.89 L434.01,29.24 L434.15,29.6 L434.29,29.95 L434.43,30.28 L434.57,30.61 L434.71,30.93 L434.85,31.23 L434.99,31.52 L435.12,31.8 L435.26,32.05 L435.4,32.29 L435.54,32.5 L435.68,32.69 L435.82,32.86 L435.96,33.01 L436.09,33.13 L436.23,33.23 L436.37,33.3 L436.51,33.34 L436.65,33.36 L436.79,33.35 L436.93,33.31 L437.07,33.25 L437.2,33.15 L437.34,33.04 L437.48,32.89 L437.62,32.72 L437.76,32.52 L437.9,32.3 L438.04,32.06 L438.17,31.79 L438.31,31.51 L438.45,31.2 L438.59,30.87 L438.73,30.53 L438.87,30.17 L439.01,29.8 L439.15,29.42 L439.28,29.02 L439.42,28.62 L439.56,28.21 L439.7,27.8 L439.84,27.38 L439.98,26.97 L440.12,26.56 L440.25,26.15 L440.39,25.74 L440.53,25.35 L440.67,24.96 L440.81,24.58 L440.95,24.22 L441.09,23.88 L441.23,23.55 L441.36,23.24 L441.5,22.95 L441.64,22.68 L441.78,22.44 L441.92,22.22 L442.06,22.03 L442.2,21.87 L442.33,21.73 L442.47,21.62 L442.61,21.55 L442.75,21.5 L442.89,21.47 L443.03,21.48 L443.17,21.52 L443.31,21.59 L443.44,21.69 L443.58,21.82 L443.72,21.98 L443.86,22.17 L444,22.39 L444.14,22.64 L444.28,22.92 L444.41,23.22 L444.55,23.55 L444.69,23.9 L444.83,24.27 L444.97,24.66 L445.11,25.07 L445.25,25.5 L445.39,25.94 L445.52,26.39 L445.66,26.85 L445.8,27.32 L445.94,27.8 L446.08,28.28 L446.22,28.76 L446.36,29.24 L446.49,29.72 L446.63,30.19 L446.77,30.65 L446.91,31.1 L447.05,31.53 L447.19,31.96 L447.33,32.36 L447.47,32.75 L447.6,33.11 L447.74,33.45 L447.88,33.76 L448.02,34.05 L448.16,34.31 L448.3,34.53 L448.44,34.73 L448.57,34.89 L448.71,35.02 L448.85,35.12 L448.99,35.18 L449.13,35.2 L449.27,35.19 L449.41,35.14 L449.55,35.05 L449.68,34.93 L449.82,34.78 L449.96,34.58 L450.1,34.36 L450.24,34.1 L450.38,33.8 L450.52,33.48 L450.65,33.13 L450.79,32.74 L450.93,32.33 L451.07,31.9 L451.21,31.44 L451.35,30.97 L451.49,30.47 L451.63,29.96 L451.76,29.43 L451.9,28.9 L452.04,28.35 L452.18,27.8 L452.32,27.25 L452.46,26.69 L452.6,26.14 L452.73,25.59 L452.87,25.05 L453.01,24.52 L453.15,24 L453.29,23.5 L453.43,23.01 L453.57,22.55 L453.71,22.11 L453.84,21.69 L453.98,21.31 L454.12,20.95 L454.26,20.62 L454.4,20.33 L454.54,20.07 L454.68,19.85 L454.81,19.67 L454.95,19.52 L455.09,19.42 L455.23,19.35 L455.37,19.33 L455.51,19.35 L455.65,19.41 L455.79,19.52 L455.92,19.67 L456.06,19.86 L456.2,20.09 L456.34,20.35 L456.48,20.66 L456.62,21 L456.76,21.38 L456.89,21.78 L457.03,22.22 L457.17,22.69 L457.31,23.18 L457.45,23.7 L457.59,24.24 L457.73,24.8 L457.87,25.38 L458,25.97 L458.14,26.57 L458.28,27.18 L458.42,27.8 L458.56,28.42 L458.7,29.03 L458.84,29.65 L458.97,30.25 L459.11,30.85 L459.25,31.43 L459.39,32 L459.53,32.55 L459.67,33.08 L459.81,33.58 L459.95,34.06 L460.08,34.51 L460.22,34.93 L460.36,35.31 L460.5,35.66 L460.64,35.97 L460.78,36.25 L460.92,36.48 L461.05,36.67 L461.19,36.82 L461.33,36.92 L461.47,36.99 L461.61,37 L461.75,36.97 L461.89,36.9 L462.03,36.78 L462.16,36.62 L462.3,36.41 L462.44,36.16 L462.58,35.87 L462.72,35.54 L462.86,35.17 L463,34.76 L463.13,34.32 L463.27,33.84 L463.41,33.33 L463.55,32.8 L463.69,32.24 L463.83,31.65 L463.97,31.04 L464.11,30.42 L464.24,29.78 L464.38,29.13 L464.52,28.47 L464.66,27.8 L464.8,27.13 L464.94,26.47 L465.08,25.8 L465.21,25.15 L465.35,24.5 L465.49,23.87 L465.63,23.26 L465.77,22.67 L465.91,22.1 L466.05,21.55 L466.19,21.04 L466.32,20.55 L466.46,20.1 L466.6,19.69 L466.74,19.31 L466.88,18.98 L467.02,18.68 L467.16,18.43 L467.29,18.23 L467.43,18.07 L467.57,17.96 L467.71,17.89 L467.85,17.87 L467.99,17.89 L468.13,17.97 L468.27,18.09 L468.4,18.26 L468.54,18.48 L468.68,18.74 L468.82,19.05 L468.96,19.41 L469.1,19.81 L469.24,20.24 L469.37,20.72 L469.51,21.23 L469.65,21.78 L469.79,22.36 L469.93,22.97 L470.07,23.61 L470.21,24.27 L470.35,24.95 L470.48,25.64 L470.62,26.35 L470.76,27.07 L470.9,27.8 L471.04,28.53 L471.18,29.26 L471.32,29.99 L471.45,30.7 L471.59,31.41 L471.73,32.1 L471.87,32.78 L472.01,33.43 L472.15,34.06 L472.29,34.66 L472.43,35.23 L472.56,35.76 L472.7,36.26 L472.84,36.72 L472.98,37.14 L473.12,37.51 L473.26,37.84 L473.4,38.12 L473.53,38.35 L473.67,38.53 L473.81,38.66 L473.95,38.74 L474.09,38.76 L474.23,38.73 L474.37,38.64 L474.51,38.51 L474.64,38.31 L474.78,38.07 L474.92,37.78 L475.06,37.43 L475.2,37.04 L475.34,36.6 L475.48,36.12 L475.61,35.59 L475.75,35.02 L475.89,34.42 L476.03,33.78 L476.17,33.11 L476.31,32.41 L476.45,31.68 L476.59,30.94 L476.72,30.17 L476.86,29.39 L477,28.6 L477.14,27.8 L477.28,27 L477.42,26.2 L477.56,25.4 L477.69,24.61 L477.83,23.84 L477.97,23.08 L478.11,22.34 L478.25,21.63 L478.39,20.94 L478.53,20.28 L478.67,19.66 L478.8,19.08 L478.94,18.53 L479.08,18.03 L479.22,17.58 L479.36,17.17 L479.5,16.81 L479.64,16.51 L479.77,16.26 L479.91,16.06 L480.05,15.92 L480.19,15.84 L480.33,15.82 L480.47,15.85 L480.61,15.94 L480.75,16.09 L480.88,16.29 L481.02,16.55 L481.16,16.87 L481.3,17.24 L481.44,17.67 L481.58,18.15 L481.72,18.68 L481.85,19.25 L481.99,19.87 L482.13,20.53 L482.27,21.23 L482.41,21.97 L482.55,22.73 L482.69,23.53 L482.83,24.35 L482.96,25.19 L483.1,26.05 L483.24,26.92 L483.38,27.8 L483.52,28.68 L483.66,29.57 L483.8,30.44 L483.93,31.31 L484.07,32.17 L484.21,33.01 L484.35,33.83 L484.49,34.62 L484.63,35.38 L484.77,36.11 L484.91,36.8 L485.04,37.45 L485.18,38.05 L485.32,38.61 L485.46,39.12 L485.6,39.57 L485.74,39.97 L485.88,40.31 L486.01,40.6 L486.15,40.82 L486.29,40.97 L486.43,41.07 L486.57,41.1 L486.71,41.06 L486.85,40.96 L486.99,40.79 L487.12,40.56 L487.26,40.27 L487.4,39.92 L487.54,39.5 L487.68,39.02 L487.82,38.49 L487.96,37.9 L488.09,37.27 L488.23,36.58 L488.37,35.84 L488.51,35.07 L488.65,34.25 L488.79,33.4 L488.93,32.52 L489.07,31.61 L489.2,30.68 L489.34,29.73 L489.48,28.77 L489.62,27.8 L489.76,26.82 L489.9,25.85 L490.04,24.88 L490.17,23.92 L490.31,22.98 L490.45,22.05 L490.59,21.16 L490.73,20.28 L490.87,19.45 L491.01,18.65 L491.15,17.89 L491.28,17.17 L491.42,16.51 L491.56,15.9 L491.7,15.34 L491.84,14.84 L491.98,14.4 L492.12,14.03 L492.25,13.73 L492.39,13.49 L492.53,13.32 L492.67,13.22 L492.81,13.18 L492.95,13.22 L493.09,13.33 L493.23,13.52 L493.36,13.77 L493.5,14.09 L493.64,14.48 L493.78,14.94 L493.92,15.46 L494.06,16.05 L494.2,16.69 L494.33,17.4 L494.47,18.15 L494.61,18.96 L494.75,19.81 L494.89,20.71 L495.03,21.64 L495.17,22.61 L495.31,23.61 L495.44,24.63 L495.58,25.68 L495.72,26.73 L495.86,27.8 L496,28.87 L496.14,29.94 L496.28,31.01 L496.41,32.06 L496.55,33.1 L496.69,34.11 L496.83,35.1 L496.97,36.06 L497.11,36.98 L497.25,37.86 L497.39,38.69 L497.52,39.47 L497.66,40.2 L497.8,40.87 L497.94,41.49 L498.08,42.03 L498.22,42.51 L498.36,42.92 L498.49,43.26 L498.63,43.52 L498.77,43.71 L498.91,43.82 L499.05,43.85 L499.19,43.8 L499.33,43.68 L499.47,43.47 L499.6,43.19 L499.74,42.84 L499.88,42.4 L500.02,41.9 L500.16,41.32 L500.3,40.68 L500.44,39.97 L500.57,39.2 L500.71,38.37 L500.85,37.48 L500.99,36.55 L501.13,35.56 L501.27,34.54 L501.41,33.48 L501.55,32.38 L501.68,31.26 L501.82,30.12 L501.96,28.97 L502.1,27.8 L502.24,26.63 L502.38,25.46 L502.52,24.3 L502.65,23.15 L502.79,22.01 L502.93,20.91 L503.07,19.83 L503.21,18.79 L503.35,17.78 L503.49,16.82 L503.63,15.92 L503.76,15.06 L503.9,14.27 L504.04,13.54 L504.18,12.87 L504.32,12.28 L504.46,11.76 L504.6,11.32 L504.73,10.95 L504.87,10.67 L505.01,10.44 L505.15,10.28 L505.29,10.21 L505.43,10.22 L505.57,10.32 L505.71,10.51 L505.84,10.78 L505.98,11.14 L506.12,11.59 L506.26,12.11 L506.4,12.72 L506.54,13.41 L506.68,14.18 L506.81,15.02 L506.95,15.92 L507.09,16.9 L507.23,17.93 L507.37,19.02 L507.51,20.17 L507.65,21.36 L507.79,22.59 L507.92,23.85 L508.06,25.15 L508.2,26.47 L508.34,27.8 L508.48,29.14 L508.62,30.49 L508.76,31.84 L508.89,33.17 L509.03,34.49 L509.17,35.79 L509.31,37.06 L509.45,38.29 L509.59,39.47 L509.73,40.61 L509.87,41.7 L510,42.72 L510.14,43.68 L510.28,44.57 L510.42,45.38 L510.56,46.11 L510.7,46.75 L510.84,47.31 L510.97,47.78 L511.11,48.09 L511.25,48.3 L511.39,48.41 L511.53,48.42 L511.67,48.33 L511.81,48.13 L511.95,47.84 L512.08,47.45 L512.22,46.96 L512.36,46.39 L512.5,45.71 L512.64,44.96 L512.78,44.11 L512.92,43.19 L513.05,42.19 L513.19,41.12 L513.33,39.99 L513.47,38.79 L513.61,37.54 L513.75,36.24 L513.89,34.9 L514.03,33.53 L514.16,32.12 L514.3,30.69 L514.44,29.25 L514.58,27.8 L514.72,26.35 L514.86,24.9 L515,23.47 L515.13,22.06 L515.27,20.67 L515.41,19.32 L515.55,18.01 L515.69,16.74 L515.83,15.53 L515.97,14.38 L516.11,13.29 L516.24,12.27 L516.38,11.32 L516.52,10.46 L516.66,9.68 L516.8,8.99 L516.94,8.39 L517.08,7.88 L517.21,7.47 L517.35,7.16 L517.49,6.94 L517.63,6.83 L517.77,6.83 L517.91,6.92 L518.05,7.12 L518.19,7.42 L518.32,7.83 L518.46,8.33 L518.6,8.93 L518.74,9.61 L518.88,10.39 L519.02,11.25 L519.16,12.19 L519.29,13.21 L519.43,14.3 L519.57,15.46 L519.71,16.67 L519.85,17.94 L519.99,19.26 L520.13,20.62 L520.27,22.01 L520.4,23.43 L520.54,24.88 L520.68,26.34 L520.82,27.8 L520.96,29.26 L521.1,30.72 L521.24,32.17 L521.37,33.59 L521.51,34.98 L521.65,36.34 L521.79,37.66 L521.93,38.93 L522.07,40.14 L522.21,41.3 L522.35,42.39 L522.48,43.41 L522.62,44.35 L522.76,45.21 L522.9,45.99 L523.04,46.67 L523.18,47.27 L523.32,47.77 L523.45,48.18 L523.59,48.48 L523.73,48.68 L523.87,48.79 L524.01,48.79 L524.15,48.68 L524.29,48.48 L524.43,48.18 L524.56,47.77 L524.7,47.27 L524.84,46.67 L524.98,45.99 L525.12,45.21 L525.26,44.35 L525.4,43.41 L525.53,42.39 L525.67,41.3 L525.81,40.14 L525.95,38.93 L526.09,37.66 L526.23,36.34 L526.37,34.98 L526.51,33.59 L526.64,32.17 L526.78,30.72 L526.92,29.26 L527.06,27.8 L527.2,26.34 L527.34,24.88 L527.48,23.43 L527.61,22.01 L527.75,20.62 L527.89,19.26 L528.03,17.94 L528.17,16.67 L528.31,15.46 L528.45,14.3 L528.59,13.21 L528.72,12.19 L528.86,11.25 L529,10.39 L529.14,9.61 L529.28,8.93 L529.42,8.33 L529.56,7.83 L529.69,7.42 L529.83,7.12 L529.97,6.92 L530.11,6.81 L530.25,6.81 L530.39,6.92 L530.53,7.12 L530.67,7.42 L530.8,7.83 L530.94,8.33 L531.08,8.93 L531.22,9.61 L531.36,10.39 L531.5,11.25 L531.64,12.19 L531.77,13.21 L531.91,14.3 L532.05,15.46 L532.19,16.67 L532.33,17.94 L532.47,19.26 L532.61,20.62 L532.75,22.01 L532.88,23.43 L533.02,24.88 L533.16,26.34 L533.3,27.8" fill="none" stroke="#141414" stroke-width="1.3" stroke-linejoin="round"/>
<text x="392.8" y="29.9" font-family="'Liberation Serif', serif" font-size="7" font-weight="bold" font-style="normal" text-anchor="end" fill="#141414" stroke="#141414" stroke-width="0.16">V<tspan font-size="66%">DD</tspan></text>
<text transform="translate(376.6,27.5) rotate(-90)" font-family="'Liberation Serif', serif" font-size="9" font-weight="bold" font-style="normal" text-anchor="middle" fill="#141414" dominant-baseline="central">A<tspan font-size="66%">Tank</tspan></text>
<defs><linearGradient id="gf" x1="0" y1="0" x2="0" y2="1"><stop offset="0" stop-color="#d6d6d6"/><stop offset="1" stop-color="#8c8c8c"/></linearGradient></defs>
<path d="M396.5,88.7 L396.5,79.2 L408.5,79.2 L408.64,79.31 L408.78,79.42 L408.92,79.53 L409.05,79.65 L409.19,79.77 L409.33,79.89 L409.47,80.01 L409.61,80.13 L409.75,80.26 L409.89,80.37 L410.03,80.49 L410.16,80.61 L410.3,80.72 L410.44,80.82 L410.58,80.92 L410.72,81.02 L410.86,81.11 L411,81.19 L411.13,81.26 L411.27,81.32 L411.41,81.38 L411.55,81.42 L411.69,81.45 L411.83,81.47 L411.97,81.48 L412.11,81.48 L412.24,81.47 L412.38,81.44 L412.52,81.4 L412.66,81.35 L412.8,81.29 L412.94,81.21 L413.08,81.12 L413.21,81.02 L413.35,80.9 L413.49,80.78 L413.63,80.64 L413.77,80.49 L413.91,80.33 L414.05,80.16 L414.19,79.98 L414.32,79.79 L414.46,79.6 L414.6,79.4 L414.74,79.2 L414.88,79 L415.02,78.79 L415.16,78.59 L415.29,78.38 L415.43,78.18 L415.57,77.98 L415.71,77.79 L415.85,77.6 L415.99,77.41 L416.13,77.23 L416.27,77.06 L416.4,76.9 L416.54,76.75 L416.68,76.61 L416.82,76.48 L416.96,76.36 L417.1,76.25 L417.24,76.16 L417.37,76.08 L417.51,76.02 L417.65,75.97 L417.79,75.94 L417.93,75.92 L418.07,75.92 L418.21,75.94 L418.35,75.97 L418.48,76.02 L418.62,76.08 L418.76,76.16 L418.9,76.26 L419.04,76.37 L419.18,76.5 L419.32,76.64 L419.45,76.79 L419.59,76.96 L419.73,77.14 L419.87,77.34 L420.01,77.54 L420.15,77.76 L420.29,77.98 L420.43,78.21 L420.56,78.45 L420.7,78.7 L420.84,78.95 L420.98,79.2 L421.12,79.46 L421.26,79.71 L421.4,79.97 L421.53,80.23 L421.67,80.48 L421.81,80.73 L421.95,80.97 L422.09,81.21 L422.23,81.44 L422.37,81.66 L422.51,81.87 L422.64,82.06 L422.78,82.25 L422.92,82.42 L423.06,82.58 L423.2,82.72 L423.34,82.85 L423.48,82.96 L423.61,83.05 L423.75,83.13 L423.89,83.18 L424.03,83.22 L424.17,83.24 L424.31,83.23 L424.45,83.21 L424.59,83.17 L424.72,83.11 L424.86,83.02 L425,82.92 L425.14,82.8 L425.28,82.66 L425.42,82.5 L425.56,82.33 L425.69,82.14 L425.83,81.93 L425.97,81.7 L426.11,81.47 L426.25,81.22 L426.39,80.95 L426.53,80.68 L426.67,80.4 L426.8,80.11 L426.94,79.81 L427.08,79.51 L427.22,79.2 L427.36,78.89 L427.5,78.58 L427.64,78.27 L427.77,77.97 L427.91,77.66 L428.05,77.36 L428.19,77.07 L428.33,76.79 L428.47,76.52 L428.61,76.26 L428.75,76.01 L428.88,75.77 L429.02,75.55 L429.16,75.35 L429.3,75.16 L429.44,74.99 L429.58,74.84 L429.72,74.71 L429.85,74.61 L429.99,74.52 L430.13,74.46 L430.27,74.42 L430.41,74.4 L430.55,74.41 L430.69,74.44 L430.83,74.49 L430.96,74.57 L431.1,74.67 L431.24,74.79 L431.38,74.94 L431.52,75.11 L431.66,75.3 L431.8,75.51 L431.93,75.74 L432.07,75.98 L432.21,76.25 L432.35,76.53 L432.49,76.83 L432.63,77.14 L432.77,77.46 L432.91,77.79 L433.04,78.13 L433.18,78.48 L433.32,78.84 L433.46,79.2 L433.6,79.56 L433.74,79.92 L433.88,80.29 L434.01,80.64 L434.15,81 L434.29,81.35 L434.43,81.68 L434.57,82.01 L434.71,82.33 L434.85,82.63 L434.99,82.92 L435.12,83.2 L435.26,83.45 L435.4,83.69 L435.54,83.9 L435.68,84.09 L435.82,84.26 L435.96,84.41 L436.09,84.53 L436.23,84.63 L436.37,84.7 L436.51,84.74 L436.65,84.76 L436.79,84.75 L436.93,84.71 L437.07,84.65 L437.2,84.55 L437.34,84.44 L437.48,84.29 L437.62,84.12 L437.76,83.92 L437.9,83.7 L438.04,83.46 L438.17,83.19 L438.31,82.91 L438.45,82.6 L438.59,82.27 L438.73,81.93 L438.87,81.57 L439.01,81.2 L439.15,80.82 L439.28,80.42 L439.42,80.02 L439.56,79.61 L439.7,79.2 L439.84,78.78 L439.98,78.37 L440.12,77.96 L440.25,77.55 L440.39,77.14 L440.53,76.75 L440.67,76.36 L440.81,75.98 L440.95,75.62 L441.09,75.28 L441.23,74.95 L441.36,74.64 L441.5,74.35 L441.64,74.08 L441.78,73.84 L441.92,73.62 L442.06,73.43 L442.2,73.27 L442.33,73.13 L442.47,73.02 L442.61,72.95 L442.75,72.9 L442.89,72.87 L443.03,72.88 L443.17,72.92 L443.31,72.99 L443.44,73.09 L443.58,73.22 L443.72,73.38 L443.86,73.57 L444,73.79 L444.14,74.04 L444.28,74.32 L444.41,74.62 L444.55,74.95 L444.69,75.3 L444.83,75.67 L444.97,76.06 L445.11,76.47 L445.25,76.9 L445.39,77.34 L445.52,77.79 L445.66,78.25 L445.8,78.72 L445.94,79.2 L446.08,79.68 L446.22,80.16 L446.36,80.64 L446.49,81.12 L446.63,81.59 L446.77,82.05 L446.91,82.5 L447.05,82.93 L447.19,83.36 L447.33,83.76 L447.47,84.15 L447.6,84.51 L447.74,84.85 L447.88,85.16 L448.02,85.45 L448.16,85.71 L448.3,85.93 L448.44,86.13 L448.57,86.29 L448.71,86.42 L448.85,86.52 L448.99,86.58 L449.13,86.6 L449.27,86.59 L449.41,86.54 L449.55,86.45 L449.68,86.33 L449.82,86.18 L449.96,85.98 L450.1,85.76 L450.24,85.5 L450.38,85.2 L450.52,84.88 L450.65,84.53 L450.79,84.14 L450.93,83.73 L451.07,83.3 L451.21,82.84 L451.35,82.37 L451.49,81.87 L451.63,81.36 L451.76,80.83 L451.9,80.3 L452.04,79.75 L452.18,79.2 L452.32,78.65 L452.46,78.09 L452.6,77.54 L452.73,76.99 L452.87,76.45 L453.01,75.92 L453.15,75.4 L453.29,74.9 L453.43,74.41 L453.57,73.95 L453.71,73.51 L453.84,73.09 L453.98,72.71 L454.12,72.35 L454.26,72.02 L454.4,71.73 L454.54,71.47 L454.68,71.25 L454.81,71.07 L454.95,70.92 L455.09,70.82 L455.23,70.75 L455.37,70.73 L455.51,70.75 L455.65,70.81 L455.79,70.93 L455.92,71.08 L456.06,71.27 L456.2,71.51 L456.34,71.79 L456.48,72.1 L456.62,72.45 L456.76,72.84 L456.89,73.26 L457.03,73.72 L457.17,74.2 L457.31,74.71 L457.45,75.25 L457.59,75.81 L457.73,76.4 L457.87,77 L458,77.61 L458.14,78.24 L458.28,78.88 L458.42,79.52 L458.56,80.17 L458.7,80.82 L458.84,81.46 L458.97,82.1 L459.11,82.73 L459.25,83.34 L459.39,83.94 L459.53,84.52 L459.67,85.08 L459.81,85.62 L459.95,86.13 L460.08,86.62 L460.22,87.08 L460.36,87.5 L460.5,87.89 L460.64,88.24 L460.78,88.56 L460.92,88.7 L461.05,88.7 L461.19,88.7 L461.33,88.7 L461.47,88.7 L461.61,88.7 L461.75,88.7 L461.89,88.7 L462.03,88.7 L462.16,88.7 L462.3,88.7 L462.44,88.7 L462.58,88.7 L462.72,88.57 L462.86,88.26 L463,87.91 L463.13,87.53 L463.27,87.11 L463.41,86.66 L463.55,86.18 L463.69,85.68 L463.83,85.15 L463.97,84.61 L464.11,84.04 L464.24,83.46 L464.38,82.87 L464.52,82.27 L464.66,81.66 L464.8,81.05 L464.94,80.44 L465.08,79.84 L465.21,79.24 L465.35,78.66 L465.49,78.09 L465.63,77.54 L465.77,77.01 L465.91,76.5 L466.05,76.02 L466.19,75.57 L466.32,75.14 L466.46,74.76 L466.6,74.41 L466.74,74.1 L466.88,73.83 L467.02,73.6 L467.16,73.41 L467.29,73.27 L467.43,73.18 L467.57,73.14 L467.71,73.13 L467.85,73.18 L467.99,73.27 L468.13,73.41 L468.27,73.6 L468.4,73.84 L468.54,74.13 L468.68,74.46 L468.82,74.84 L468.96,75.26 L469.1,75.73 L469.24,76.24 L469.37,76.78 L469.51,77.36 L469.65,77.98 L469.79,78.63 L469.93,79.31 L470.07,80.01 L470.21,80.74 L470.35,81.49 L470.48,82.25 L470.62,83.03 L470.76,83.82 L470.9,84.61 L471.04,85.41 L471.18,86.21 L471.32,87 L471.45,87.79 L471.59,88.56 L471.73,88.7 L471.87,88.7 L472.01,88.7 L472.15,88.7 L472.29,88.7 L472.43,88.7 L472.56,88.7 L472.7,88.7 L472.84,88.7 L472.98,88.7 L473.12,88.7 L473.26,88.7 L473.4,88.7 L473.53,88.7 L473.67,88.7 L473.81,88.7 L473.95,88.7 L474.09,88.7 L474.23,88.7 L474.37,88.7 L474.51,88.7 L474.64,88.7 L474.78,88.7 L474.92,88.7 L475.06,88.7 L475.2,88.7 L475.34,88.7 L475.48,88.7 L475.61,88.7 L475.75,88.7 L475.89,88.7 L476.03,88.7 L476.17,88.7 L476.31,88.7 L476.45,88.7 L476.59,88.7 L476.72,88.7 L476.86,88.7 L477,88.41 L477.14,87.68 L477.28,86.94 L477.42,86.21 L477.56,85.48 L477.69,84.76 L477.83,84.06 L477.97,83.37 L478.11,82.7 L478.25,82.05 L478.39,81.43 L478.53,80.84 L478.67,80.29 L478.8,79.77 L478.94,79.29 L479.08,78.86 L479.22,78.47 L479.36,78.14 L479.5,77.85 L479.64,77.61 L479.77,77.43 L479.91,77.3 L480.05,77.23 L480.19,77.22 L480.33,77.26 L480.47,77.37 L480.61,77.52 L480.75,77.74 L480.88,78.01 L481.02,78.34 L481.16,78.73 L481.3,79.17 L481.44,79.66 L481.58,80.21 L481.72,80.8 L481.85,81.45 L481.99,82.13 L482.13,82.86 L482.27,83.63 L482.41,84.44 L482.55,85.27 L482.69,86.14 L482.83,87.03 L482.96,87.94 L483.1,88.7 L483.24,88.7 L483.38,88.7 L483.52,88.7 L483.66,88.7 L483.8,88.7 L483.93,88.7 L484.07,88.7 L484.21,88.7 L484.35,88.7 L484.49,88.7 L484.63,88.7 L484.77,88.7 L484.91,88.7 L485.04,88.7 L485.18,88.7 L485.32,88.7 L485.46,88.7 L485.6,88.7 L485.74,88.7 L485.88,88.7 L486.01,88.7 L486.15,88.7 L486.29,88.7 L486.43,88.7 L486.57,88.7 L486.71,88.7 L486.85,88.7 L486.99,88.7 L487.12,88.7 L487.26,88.7 L487.4,88.7 L487.54,88.7 L487.68,88.7 L487.82,88.7 L487.96,88.7 L488.09,88.7 L488.23,88.7 L488.37,88.7 L488.51,88.7 L488.65,88.7 L488.79,88.7 L488.93,88.7 L489.07,88.7 L489.2,88.7 L489.34,88.7 L489.48,88.7 L489.62,88.7 L489.76,88.7 L489.9,88.7 L490.04,88.7 L490.17,88.7 L490.31,88.7 L490.45,88.48 L490.59,87.64 L490.73,86.84 L490.87,86.06 L491.01,85.33 L491.15,84.63 L491.28,83.98 L491.42,83.38 L491.56,82.83 L491.7,82.34 L491.84,81.9 L491.98,81.53 L492.12,81.22 L492.25,80.97 L492.39,80.8 L492.53,80.69 L492.67,80.65 L492.81,80.68 L492.95,80.78 L493.09,80.95 L493.23,81.19 L493.36,81.51 L493.5,81.89 L493.64,82.34 L493.78,82.86 L493.92,83.44 L494.06,84.09 L494.2,84.8 L494.33,85.56 L494.47,86.38 L494.61,87.24 L494.75,88.16 L494.89,88.7 L495.03,88.7 L495.17,88.7 L495.31,88.7 L495.44,88.7 L495.58,88.7 L495.72,88.7 L495.86,88.7 L496,88.7 L496.14,88.7 L496.28,88.7 L496.41,88.7 L496.55,88.7 L496.69,88.7 L496.83,88.7 L496.97,88.7 L497.11,88.7 L497.25,88.7 L497.39,88.7 L497.52,88.7 L497.66,88.7 L497.8,88.7 L497.94,88.7 L498.08,88.7 L498.22,88.7 L498.36,88.7 L498.49,88.7 L498.63,88.7 L498.77,88.7 L498.91,88.7 L499.05,88.7 L499.19,88.7 L499.33,88.7 L499.47,88.7 L499.6,88.7 L499.74,88.7 L499.88,88.7 L500.02,88.7 L500.16,88.7 L500.3,88.7 L500.44,88.7 L500.57,88.7 L500.71,88.7 L500.85,88.7 L500.99,88.7 L501.13,88.7 L501.27,88.7 L501.41,88.7 L501.55,88.7 L501.68,88.7 L501.82,88.7 L501.96,88.7 L502.1,88.7 L502.24,88.7 L502.38,88.7 L502.52,88.7 L502.65,88.7 L502.79,88.7 L502.93,88.7 L503.07,88.7 L503.21,88.7 L503.35,88.7 L503.49,88.7 L503.63,88.07 L503.76,87.27 L503.9,86.53 L504.04,85.85 L504.18,85.24 L504.32,84.7 L504.46,84.23 L504.6,83.84 L504.73,83.53 L504.87,83.3 L505.01,83.12 L505.15,83.01 L505.29,82.99 L505.43,83.06 L505.57,83.21 L505.71,83.45 L505.84,83.77 L505.98,84.18 L506.12,84.68 L506.26,85.26 L506.4,85.92 L506.54,86.66 L506.68,87.48 L506.81,88.37 L506.95,88.7 L507.09,88.7 L507.23,88.7 L507.37,88.7 L507.51,88.7 L507.65,88.7 L507.79,88.7 L507.92,88.7 L508.06,88.7 L508.2,88.7 L508.34,88.7 L508.48,88.7 L508.62,88.7 L508.76,88.7 L508.89,88.7 L509.03,88.7 L509.17,88.7 L509.31,88.7 L509.45,88.7 L509.59,88.7 L509.73,88.7 L509.87,88.7 L510,88.7 L510.14,88.7 L510.28,88.7 L510.42,88.7 L510.56,88.7 L510.7,88.7 L510.84,88.7 L510.97,88.7 L511.11,88.7 L511.25,88.7 L511.39,88.7 L511.53,88.7 L511.67,88.7 L511.81,88.7 L511.95,88.7 L512.08,88.7 L512.22,88.7 L512.36,88.7 L512.5,88.7 L512.64,88.7 L512.78,88.7 L512.92,88.7 L513.05,88.7 L513.19,88.7 L513.33,88.7 L513.47,88.7 L513.61,88.7 L513.75,88.7 L513.89,88.7 L514.03,88.7 L514.16,88.7 L514.3,88.7 L514.44,88.7 L514.58,88.7 L514.72,88.7 L514.86,88.7 L515,88.7 L515.13,88.7 L515.27,88.7 L515.41,88.7 L515.55,88.7 L515.69,88.7 L515.83,88.7 L515.97,88.7 L516.11,88.21 L516.24,87.2 L516.38,86.26 L516.52,85.4 L516.66,84.62 L516.8,83.93 L516.94,83.33 L517.08,82.83 L517.21,82.42 L517.35,82.1 L517.49,81.89 L517.63,81.78 L517.77,81.78 L517.91,81.87 L518.05,82.07 L518.19,82.37 L518.32,82.78 L518.46,83.28 L518.6,83.88 L518.74,84.56 L518.88,85.34 L519.02,86.2 L519.16,87.14 L519.29,88.16 L519.43,88.7 L519.57,88.7 L519.71,88.7 L519.85,88.7 L519.99,88.7 L520.13,88.7 L520.27,88.7 L520.4,88.7 L520.54,88.7 L520.68,88.7 L520.82,88.7 L520.96,88.7 L521.1,88.7 L521.24,88.7 L521.37,88.7 L521.51,88.7 L521.65,88.7 L521.79,88.7 L521.93,88.7 L522.07,88.7 L522.21,88.7 L522.35,88.7 L522.48,88.7 L522.62,88.7 L522.76,88.7 L522.9,88.7 L523.04,88.7 L523.18,88.7 L523.32,88.7 L523.45,88.7 L523.59,88.7 L523.73,88.7 L523.87,88.7 L524.01,88.7 L524.15,88.7 L524.29,88.7 L524.43,88.7 L524.56,88.7 L524.7,88.7 L524.84,88.7 L524.98,88.7 L525.12,88.7 L525.26,88.7 L525.4,88.7 L525.53,88.7 L525.67,88.7 L525.81,88.7 L525.95,88.7 L526.09,88.7 L526.23,88.7 L526.37,88.7 L526.51,88.7 L526.64,88.7 L526.78,88.7 L526.92,88.7 L527.06,88.7 L527.2,88.7 L527.34,88.7 L527.48,88.7 L527.61,88.7 L527.75,88.7 L527.89,88.7 L528.03,88.7 L528.17,88.7 L528.31,88.7 L528.45,88.7 L528.59,88.16 L528.72,87.14 L528.86,86.2 L529,85.34 L529.14,84.56 L529.28,83.88 L529.42,83.28 L529.56,82.78 L529.69,82.37 L529.83,82.07 L529.97,81.87 L530.11,81.76 L530.25,81.76 L530.39,81.87 L530.53,82.07 L530.67,82.37 L530.8,82.78 L530.94,83.28 L531.08,83.88 L531.22,84.56 L531.36,85.34 L531.5,86.2 L531.64,87.14 L531.77,88.16 L531.91,88.7 L532.05,88.7 L532.19,88.7 L532.33,88.7 L532.47,88.7 L532.61,88.7 L532.75,88.7 L532.88,88.7 L533.02,88.7 L533.16,88.7 L533.3,88.7 L533.3,88.7 Z" fill="url(#gf)" stroke="none" transform="translate(0,0)"/>
<line x1="396.5" y1="59.9" x2="396.5" y2="125.5" stroke="#141414" stroke-width="1.3"/>
<path d="M396.5,57.4 L398.6,61.4 L394.4,61.4 Z" fill="#141414"/>
<line x1="396.5" y1="79.2" x2="458" y2="79.2" stroke="#141414" stroke-width="1.3"/>
<path d="M458,79.44 L458.96,79.64 L459.91,79.86 L460.87,80.14 L461.82,80.47 L462.78,80.86 L463.74,81.27 L464.69,81.67 L465.65,82.09 L466.61,82.52 L467.56,82.97 L468.52,83.44 L469.48,83.91 L470.43,84.38 L471.39,84.85 L472.34,85.32 L473.3,85.79 L474.26,86.26 L475.21,86.73 L476.17,87.2 L477.12,87.67 L478.08,88.14 L479.04,88.61 L479.99,89.08 L480.95,89.55 L481.91,90.02 L482.86,90.49 L483.82,90.96 L484.77,91.43 L485.73,91.91 L486.69,92.38 L487.64,92.85 L488.6,93.32 L489.56,93.79 L490.51,94.25 L491.47,94.69 L492.43,95.12 L493.38,95.54 L494.34,95.96 L495.29,96.38 L496.25,96.8 L497.21,97.22 L498.16,97.64 L499.12,98.06 L500.07,98.48 L501.03,98.9 L501.99,99.3 L502.94,99.69 L503.9,100.06 L504.86,100.42 L505.81,100.78 L506.77,101.13 L507.73,101.45 L508.68,101.72 L509.64,101.95 L510.59,102.16 L511.55,102.34 L512.51,102.48 L513.46,102.58 L514.42,102.65 L515.38,102.7 L516.33,102.73 L517.29,102.75 L518.24,102.75 L519.2,102.75 L520.16,102.75 L521.11,102.75 L522.07,102.75 L523.02,102.75 L523.98,102.75 L524.94,102.75 L525.89,102.75 L526.85,102.75 L527.81,102.75 L528.76,102.75 L529.72,102.75 L530.67,102.75 L531.63,102.75 L532.59,102.75 L533.54,102.75 L534.5,102.75" fill="none" stroke="#141414" stroke-width="1.3" stroke-linejoin="round"/>
<line x1="397.5" y1="88.7" x2="538" y2="88.7" stroke="#e03a3a" stroke-width="1.5" stroke-dasharray="2.6,2.2"/>
<path d="M408.5,79.2 L408.64,79.31 L408.78,79.42 L408.92,79.53 L409.05,79.65 L409.19,79.77 L409.33,79.89 L409.47,80.01 L409.61,80.13 L409.75,80.26 L409.89,80.37 L410.03,80.49 L410.16,80.61 L410.3,80.72 L410.44,80.82 L410.58,80.92 L410.72,81.02 L410.86,81.11 L411,81.19 L411.13,81.26 L411.27,81.32 L411.41,81.38 L411.55,81.42 L411.69,81.45 L411.83,81.47 L411.97,81.48 L412.11,81.48 L412.24,81.47 L412.38,81.44 L412.52,81.4 L412.66,81.35 L412.8,81.29 L412.94,81.21 L413.08,81.12 L413.21,81.02 L413.35,80.9 L413.49,80.78 L413.63,80.64 L413.77,80.49 L413.91,80.33 L414.05,80.16 L414.19,79.98 L414.32,79.79 L414.46,79.6 L414.6,79.4 L414.74,79.2 L414.88,79 L415.02,78.79 L415.16,78.59 L415.29,78.38 L415.43,78.18 L415.57,77.98 L415.71,77.79 L415.85,77.6 L415.99,77.41 L416.13,77.23 L416.27,77.06 L416.4,76.9 L416.54,76.75 L416.68,76.61 L416.82,76.48 L416.96,76.36 L417.1,76.25 L417.24,76.16 L417.37,76.08 L417.51,76.02 L417.65,75.97 L417.79,75.94 L417.93,75.92 L418.07,75.92 L418.21,75.94 L418.35,75.97 L418.48,76.02 L418.62,76.08 L418.76,76.16 L418.9,76.26 L419.04,76.37 L419.18,76.5 L419.32,76.64 L419.45,76.79 L419.59,76.96 L419.73,77.14 L419.87,77.34 L420.01,77.54 L420.15,77.76 L420.29,77.98 L420.43,78.21 L420.56,78.45 L420.7,78.7 L420.84,78.95 L420.98,79.2 L421.12,79.46 L421.26,79.71 L421.4,79.97 L421.53,80.23 L421.67,80.48 L421.81,80.73 L421.95,80.97 L422.09,81.21 L422.23,81.44 L422.37,81.66 L422.51,81.87 L422.64,82.06 L422.78,82.25 L422.92,82.42 L423.06,82.58 L423.2,82.72 L423.34,82.85 L423.48,82.96 L423.61,83.05 L423.75,83.13 L423.89,83.18 L424.03,83.22 L424.17,83.24 L424.31,83.23 L424.45,83.21 L424.59,83.17 L424.72,83.11 L424.86,83.02 L425,82.92 L425.14,82.8 L425.28,82.66 L425.42,82.5 L425.56,82.33 L425.69,82.14 L425.83,81.93 L425.97,81.7 L426.11,81.47 L426.25,81.22 L426.39,80.95 L426.53,80.68 L426.67,80.4 L426.8,80.11 L426.94,79.81 L427.08,79.51 L427.22,79.2 L427.36,78.89 L427.5,78.58 L427.64,78.27 L427.77,77.97 L427.91,77.66 L428.05,77.36 L428.19,77.07 L428.33,76.79 L428.47,76.52 L428.61,76.26 L428.75,76.01 L428.88,75.77 L429.02,75.55 L429.16,75.35 L429.3,75.16 L429.44,74.99 L429.58,74.84 L429.72,74.71 L429.85,74.61 L429.99,74.52 L430.13,74.46 L430.27,74.42 L430.41,74.4 L430.55,74.41 L430.69,74.44 L430.83,74.49 L430.96,74.57 L431.1,74.67 L431.24,74.79 L431.38,74.94 L431.52,75.11 L431.66,75.3 L431.8,75.51 L431.93,75.74 L432.07,75.98 L432.21,76.25 L432.35,76.53 L432.49,76.83 L432.63,77.14 L432.77,77.46 L432.91,77.79 L433.04,78.13 L433.18,78.48 L433.32,78.84 L433.46,79.2 L433.6,79.56 L433.74,79.92 L433.88,80.29 L434.01,80.64 L434.15,81 L434.29,81.35 L434.43,81.68 L434.57,82.01 L434.71,82.33 L434.85,82.63 L434.99,82.92 L435.12,83.2 L435.26,83.45 L435.4,83.69 L435.54,83.9 L435.68,84.09 L435.82,84.26 L435.96,84.41 L436.09,84.53 L436.23,84.63 L436.37,84.7 L436.51,84.74 L436.65,84.76 L436.79,84.75 L436.93,84.71 L437.07,84.65 L437.2,84.55 L437.34,84.44 L437.48,84.29 L437.62,84.12 L437.76,83.92 L437.9,83.7 L438.04,83.46 L438.17,83.19 L438.31,82.91 L438.45,82.6 L438.59,82.27 L438.73,81.93 L438.87,81.57 L439.01,81.2 L439.15,80.82 L439.28,80.42 L439.42,80.02 L439.56,79.61 L439.7,79.2 L439.84,78.78 L439.98,78.37 L440.12,77.96 L440.25,77.55 L440.39,77.14 L440.53,76.75 L440.67,76.36 L440.81,75.98 L440.95,75.62 L441.09,75.28 L441.23,74.95 L441.36,74.64 L441.5,74.35 L441.64,74.08 L441.78,73.84 L441.92,73.62 L442.06,73.43 L442.2,73.27 L442.33,73.13 L442.47,73.02 L442.61,72.95 L442.75,72.9 L442.89,72.87 L443.03,72.88 L443.17,72.92 L443.31,72.99 L443.44,73.09 L443.58,73.22 L443.72,73.38 L443.86,73.57 L444,73.79 L444.14,74.04 L444.28,74.32 L444.41,74.62 L444.55,74.95 L444.69,75.3 L444.83,75.67 L444.97,76.06 L445.11,76.47 L445.25,76.9 L445.39,77.34 L445.52,77.79 L445.66,78.25 L445.8,78.72 L445.94,79.2 L446.08,79.68 L446.22,80.16 L446.36,80.64 L446.49,81.12 L446.63,81.59 L446.77,82.05 L446.91,82.5 L447.05,82.93 L447.19,83.36 L447.33,83.76 L447.47,84.15 L447.6,84.51 L447.74,84.85 L447.88,85.16 L448.02,85.45 L448.16,85.71 L448.3,85.93 L448.44,86.13 L448.57,86.29 L448.71,86.42 L448.85,86.52 L448.99,86.58 L449.13,86.6 L449.27,86.59 L449.41,86.54 L449.55,86.45 L449.68,86.33 L449.82,86.18 L449.96,85.98 L450.1,85.76 L450.24,85.5 L450.38,85.2 L450.52,84.88 L450.65,84.53 L450.79,84.14 L450.93,83.73 L451.07,83.3 L451.21,82.84 L451.35,82.37 L451.49,81.87 L451.63,81.36 L451.76,80.83 L451.9,80.3 L452.04,79.75 L452.18,79.2 L452.32,78.65 L452.46,78.09 L452.6,77.54 L452.73,76.99 L452.87,76.45 L453.01,75.92 L453.15,75.4 L453.29,74.9 L453.43,74.41 L453.57,73.95 L453.71,73.51 L453.84,73.09 L453.98,72.71 L454.12,72.35 L454.26,72.02 L454.4,71.73 L454.54,71.47 L454.68,71.25 L454.81,71.07 L454.95,70.92 L455.09,70.82 L455.23,70.75 L455.37,70.73 L455.51,70.75 L455.65,70.81 L455.79,70.93 L455.92,71.08 L456.06,71.27 L456.2,71.51 L456.34,71.79 L456.48,72.1 L456.62,72.45 L456.76,72.84 L456.89,73.26 L457.03,73.72 L457.17,74.2 L457.31,74.71 L457.45,75.25 L457.59,75.81 L457.73,76.4 L457.87,77 L458,77.61 L458.14,78.24 L458.28,78.88 L458.42,79.52 L458.56,80.17 L458.7,80.82 L458.84,81.46 L458.97,82.1 L459.11,82.73 L459.25,83.34 L459.39,83.94 L459.53,84.52 L459.67,85.08 L459.81,85.62 L459.95,86.13 L460.08,86.62 L460.22,87.08 L460.36,87.5 L460.5,87.89 L460.64,88.24 L460.78,88.56 L460.92,88.83 L461.05,89.07 L461.19,89.27 L461.33,89.42 L461.47,89.53 L461.61,89.59 L461.75,89.61 L461.89,89.59 L462.03,89.53 L462.16,89.42 L462.3,89.27 L462.44,89.08 L462.58,88.84 L462.72,88.57 L462.86,88.26 L463,87.91 L463.13,87.53 L463.27,87.11 L463.41,86.66 L463.55,86.18 L463.69,85.68 L463.83,85.15 L463.97,84.61 L464.11,84.04 L464.24,83.46 L464.38,82.87 L464.52,82.27 L464.66,81.66 L464.8,81.05 L464.94,80.44 L465.08,79.84 L465.21,79.24 L465.35,78.66 L465.49,78.09 L465.63,77.54 L465.77,77.01 L465.91,76.5 L466.05,76.02 L466.19,75.57 L466.32,75.14 L466.46,74.76 L466.6,74.41 L466.74,74.1 L466.88,73.83 L467.02,73.6 L467.16,73.41 L467.29,73.27 L467.43,73.18 L467.57,73.14 L467.71,73.13 L467.85,73.18 L467.99,73.27 L468.13,73.41 L468.27,73.6 L468.4,73.84 L468.54,74.13 L468.68,74.46 L468.82,74.84 L468.96,75.26 L469.1,75.73 L469.24,76.24 L469.37,76.78 L469.51,77.36 L469.65,77.98 L469.79,78.63 L469.93,79.31 L470.07,80.01 L470.21,80.74 L470.35,81.49 L470.48,82.25 L470.62,83.03 L470.76,83.82 L470.9,84.61 L471.04,85.41 L471.18,86.21 L471.32,87 L471.45,87.79 L471.59,88.56 L471.73,89.32 L471.87,90.06 L472.01,90.79 L472.15,91.48 L472.29,92.15 L472.43,92.79 L472.56,93.39 L472.7,93.96 L472.84,94.48 L472.98,94.97 L473.12,95.41 L473.26,95.81 L473.4,96.16 L473.53,96.46 L473.67,96.7 L473.81,96.9 L473.95,97.04 L474.09,97.14 L474.23,97.17 L474.37,97.16 L474.51,97.09 L474.64,96.96 L474.78,96.79 L474.92,96.56 L475.06,96.29 L475.2,95.96 L475.34,95.59 L475.48,95.18 L475.61,94.72 L475.75,94.22 L475.89,93.68 L476.03,93.11 L476.17,92.51 L476.31,91.87 L476.45,91.22 L476.59,90.54 L476.72,89.84 L476.86,89.13 L477,88.41 L477.14,87.68 L477.28,86.94 L477.42,86.21 L477.56,85.48 L477.69,84.76 L477.83,84.06 L477.97,83.37 L478.11,82.7 L478.25,82.05 L478.39,81.43 L478.53,80.84 L478.67,80.29 L478.8,79.77 L478.94,79.29 L479.08,78.86 L479.22,78.47 L479.36,78.14 L479.5,77.85 L479.64,77.61 L479.77,77.43 L479.91,77.3 L480.05,77.23 L480.19,77.22 L480.33,77.26 L480.47,77.37 L480.61,77.52 L480.75,77.74 L480.88,78.01 L481.02,78.34 L481.16,78.73 L481.3,79.17 L481.44,79.66 L481.58,80.21 L481.72,80.8 L481.85,81.45 L481.99,82.13 L482.13,82.86 L482.27,83.63 L482.41,84.44 L482.55,85.27 L482.69,86.14 L482.83,87.03 L482.96,87.94 L483.1,88.86 L483.24,89.8 L483.38,90.75 L483.52,91.7 L483.66,92.65 L483.8,93.6 L483.93,94.53 L484.07,95.46 L484.21,96.37 L484.35,97.25 L484.49,98.11 L484.63,98.94 L484.77,99.74 L484.91,100.5 L485.04,101.21 L485.18,101.89 L485.32,102.51 L485.46,103.09 L485.6,103.61 L485.74,104.08 L485.88,104.49 L486.01,104.84 L486.15,105.13 L486.29,105.35 L486.43,105.52 L486.57,105.61 L486.71,105.65 L486.85,105.61 L486.99,105.52 L487.12,105.36 L487.26,105.13 L487.4,104.84 L487.54,104.5 L487.68,104.09 L487.82,103.62 L487.96,103.11 L488.09,102.54 L488.23,101.92 L488.37,101.25 L488.51,100.54 L488.65,99.79 L488.79,99.01 L488.93,98.2 L489.07,97.36 L489.2,96.5 L489.34,95.62 L489.48,94.72 L489.62,93.82 L489.76,92.91 L489.9,92.01 L490.04,91.1 L490.17,90.21 L490.31,89.33 L490.45,88.48 L490.59,87.64 L490.73,86.84 L490.87,86.06 L491.01,85.33 L491.15,84.63 L491.28,83.98 L491.42,83.38 L491.56,82.83 L491.7,82.34 L491.84,81.9 L491.98,81.53 L492.12,81.22 L492.25,80.97 L492.39,80.8 L492.53,80.69 L492.67,80.65 L492.81,80.68 L492.95,80.78 L493.09,80.95 L493.23,81.19 L493.36,81.51 L493.5,81.89 L493.64,82.34 L493.78,82.86 L493.92,83.44 L494.06,84.09 L494.2,84.8 L494.33,85.56 L494.47,86.38 L494.61,87.24 L494.75,88.16 L494.89,89.12 L495.03,90.11 L495.17,91.14 L495.31,92.2 L495.44,93.28 L495.58,94.39 L495.72,95.5 L495.86,96.63 L496,97.76 L496.14,98.89 L496.28,100.02 L496.41,101.13 L496.55,102.23 L496.69,103.31 L496.83,104.36 L496.97,105.37 L497.11,106.36 L497.25,107.3 L497.39,108.19 L497.52,109.03 L497.66,109.82 L497.8,110.56 L497.94,111.23 L498.08,111.84 L498.22,112.38 L498.36,112.85 L498.49,113.24 L498.63,113.57 L498.77,113.81 L498.91,113.99 L499.05,114.08 L499.19,114.09 L499.33,114.03 L499.47,113.89 L499.6,113.67 L499.74,113.37 L499.88,113 L500.02,112.56 L500.16,112.04 L500.3,111.46 L500.44,110.81 L500.57,110.1 L500.71,109.33 L500.85,108.5 L500.99,107.63 L501.13,106.7 L501.27,105.74 L501.41,104.74 L501.55,103.7 L501.68,102.64 L501.82,101.56 L501.96,100.46 L502.1,99.35 L502.24,98.24 L502.38,97.12 L502.52,96.02 L502.65,94.92 L502.79,93.85 L502.93,92.79 L503.07,91.77 L503.21,90.78 L503.35,89.83 L503.49,88.93 L503.63,88.07 L503.76,87.27 L503.9,86.53 L504.04,85.85 L504.18,85.24 L504.32,84.7 L504.46,84.23 L504.6,83.84 L504.73,83.53 L504.87,83.3 L505.01,83.12 L505.15,83.01 L505.29,82.99 L505.43,83.06 L505.57,83.21 L505.71,83.45 L505.84,83.77 L505.98,84.18 L506.12,84.68 L506.26,85.26 L506.4,85.92 L506.54,86.66 L506.68,87.48 L506.81,88.37 L506.95,89.32 L507.09,90.34 L507.23,91.43 L507.37,92.56 L507.51,93.75 L507.65,94.98 L507.79,96.26 L507.92,97.56 L508.06,98.9 L508.2,100.26 L508.34,101.63 L508.48,103.02 L508.62,104.4 L508.76,105.78 L508.89,107.15 L509.03,108.51 L509.17,109.83 L509.31,111.13 L509.45,112.4 L509.59,113.61 L509.73,114.78 L509.87,115.9 L510,116.95 L510.14,117.94 L510.28,118.85 L510.42,119.7 L510.56,120.46 L510.7,121.13 L510.84,121.72 L510.97,122.21 L511.11,122.55 L511.25,122.79 L511.39,122.92 L511.53,122.95 L511.67,122.88 L511.81,122.71 L511.95,122.44 L512.08,122.07 L512.22,121.61 L512.36,121.05 L512.5,120.39 L512.64,119.65 L512.78,118.83 L512.92,117.92 L513.05,116.93 L513.19,115.88 L513.33,114.76 L513.47,113.57 L513.61,112.33 L513.75,111.04 L513.89,109.71 L514.03,108.35 L514.16,106.95 L514.3,105.53 L514.44,104.1 L514.58,102.66 L514.72,101.21 L514.86,99.77 L515,98.35 L515.13,96.94 L515.27,95.56 L515.41,94.22 L515.55,92.91 L515.69,91.65 L515.83,90.45 L515.97,89.3 L516.11,88.21 L516.24,87.2 L516.38,86.26 L516.52,85.4 L516.66,84.62 L516.8,83.93 L516.94,83.33 L517.08,82.83 L517.21,82.42 L517.35,82.1 L517.49,81.89 L517.63,81.78 L517.77,81.78 L517.91,81.87 L518.05,82.07 L518.19,82.37 L518.32,82.78 L518.46,83.28 L518.6,83.88 L518.74,84.56 L518.88,85.34 L519.02,86.2 L519.16,87.14 L519.29,88.16 L519.43,89.25 L519.57,90.41 L519.71,91.62 L519.85,92.89 L519.99,94.21 L520.13,95.57 L520.27,96.96 L520.4,98.38 L520.54,99.83 L520.68,101.29 L520.82,102.75 L520.96,104.21 L521.1,105.67 L521.24,107.12 L521.37,108.54 L521.51,109.93 L521.65,111.29 L521.79,112.61 L521.93,113.88 L522.07,115.09 L522.21,116.25 L522.35,117.34 L522.48,118.36 L522.62,119.3 L522.76,120.16 L522.9,120.94 L523.04,121.62 L523.18,122.22 L523.32,122.72 L523.45,123.13 L523.59,123.43 L523.73,123.63 L523.87,123.74 L524.01,123.74 L524.15,123.63 L524.29,123.43 L524.43,123.13 L524.56,122.72 L524.7,122.22 L524.84,121.62 L524.98,120.94 L525.12,120.16 L525.26,119.3 L525.4,118.36 L525.53,117.34 L525.67,116.25 L525.81,115.09 L525.95,113.88 L526.09,112.61 L526.23,111.29 L526.37,109.93 L526.51,108.54 L526.64,107.12 L526.78,105.67 L526.92,104.21 L527.06,102.75 L527.2,101.29 L527.34,99.83 L527.48,98.38 L527.61,96.96 L527.75,95.57 L527.89,94.21 L528.03,92.89 L528.17,91.62 L528.31,90.41 L528.45,89.25 L528.59,88.16 L528.72,87.14 L528.86,86.2 L529,85.34 L529.14,84.56 L529.28,83.88 L529.42,83.28 L529.56,82.78 L529.69,82.37 L529.83,82.07 L529.97,81.87 L530.11,81.76 L530.25,81.76 L530.39,81.87 L530.53,82.07 L530.67,82.37 L530.8,82.78 L530.94,83.28 L531.08,83.88 L531.22,84.56 L531.36,85.34 L531.5,86.2 L531.64,87.14 L531.77,88.16 L531.91,89.25 L532.05,90.41 L532.19,91.62 L532.33,92.89 L532.47,94.21 L532.61,95.57 L532.75,96.96 L532.88,98.38 L533.02,99.83 L533.16,101.29 L533.3,102.75" fill="none" stroke="#141414" stroke-width="1.3" stroke-linejoin="round"/>
<text x="393.4" y="81" font-family="'Liberation Serif', serif" font-size="8" font-weight="bold" font-style="normal" text-anchor="end" fill="#141414" stroke="#141414" stroke-width="0.16">V<tspan font-size="66%">Init</tspan></text>
<text x="393.4" y="91.5" font-family="'Liberation Serif', serif" font-size="8" font-weight="bold" font-style="normal" text-anchor="end" fill="#141414" stroke="#141414" stroke-width="0.16">V<tspan font-size="66%">TH</tspan></text>
<text transform="translate(374,91.5) rotate(-90)" font-family="'Liberation Serif', serif" font-size="9.2" font-weight="bold" font-style="normal" text-anchor="middle" fill="#141414" dominant-baseline="central">V(N<tspan font-size="66%">B</tspan>)</text>
<path d="M474.7,66 L474.7,80 Q474.7,86 477.2,88" fill="none" stroke="#8a8a8a" stroke-width="1.1"/>
<path d="M485.3,66 L485.3,80 Q485.3,86 482.8,88" fill="none" stroke="#8a8a8a" stroke-width="1.1"/>
<line x1="477.2" y1="67.4" x2="482.8" y2="67.4" stroke="#141414" stroke-width="0.8"/>
<path d="M475,67.4 L477.6,65.9 L477.6,68.9 Z" fill="#141414"/>
<path d="M485,67.4 L482.4,68.9 L482.4,65.9 Z" fill="#141414"/>
<text x="480.3" y="64.6" font-family="'Liberation Serif', serif" font-size="7.5" font-weight="normal" font-style="normal" text-anchor="middle" fill="#141414">&#960;</text>
<path d="M513.6,66 L513.6,80 Q513.6,86 516.1,88" fill="none" stroke="#8a8a8a" stroke-width="1.1"/>
<path d="M521.8,66 L521.8,80 Q521.8,86 519.3,88" fill="none" stroke="#8a8a8a" stroke-width="1.1"/>
<line x1="516.1" y1="67.4" x2="519.3" y2="67.4" stroke="#141414" stroke-width="0.8"/>
<path d="M513.9,67.4 L516.5,65.9 L516.5,68.9 Z" fill="#141414"/>
<path d="M521.5,67.4 L518.9,68.9 L518.9,65.9 Z" fill="#141414"/>
<text x="518" y="64.6" font-family="'Liberation Serif', serif" font-size="7.5" font-weight="normal" font-style="normal" text-anchor="middle" fill="#141414">2&#934;</text>
<line x1="396.5" y1="131.8" x2="396.5" y2="163.1" stroke="#141414" stroke-width="1.3"/>
<path d="M396.5,129.3 L398.6,133.3 L394.4,133.3 Z" fill="#141414"/>
<line x1="396.5" y1="163.1" x2="538.5" y2="163.1" stroke="#141414" stroke-width="1.3"/>
<path d="M541,163.1 L537,165.2 L537,161 Z" fill="#141414"/>
<rect x="396.5" y="141.8" width="61.7" height="21.3" fill="#a2a2a2" stroke="#2a2a2a" stroke-width="1.1"/>
<rect x="462.4" y="141.8" width="10.9" height="21.3" fill="#a2a2a2" stroke="#2a2a2a" stroke-width="1.1"/>
<rect x="476.9" y="141.8" width="6.7" height="21.3" fill="#a2a2a2" stroke="#2a2a2a" stroke-width="1.1"/>
<rect x="489.6" y="141.8" width="5.9" height="21.3" fill="#a2a2a2" stroke="#2a2a2a" stroke-width="1.1"/>
<rect x="515.5" y="141.8" width="4" height="21.3" fill="#a2a2a2" stroke="#2a2a2a" stroke-width="1.1"/>
<rect x="528.2" y="141.8" width="4" height="21.3" fill="#a2a2a2" stroke="#2a2a2a" stroke-width="1.1"/>
<rect x="415.1" y="142.4" width="2.2" height="20.1" fill="#8e8e8e"/>
<rect x="434" y="142.4" width="2.2" height="20.1" fill="#8e8e8e"/>
<rect x="452.2" y="142.4" width="2.2" height="20.1" fill="#8e8e8e"/>
<circle cx="501" cy="153.3" r="1.55" fill="#141414"/>
<circle cx="505" cy="153.3" r="1.55" fill="#141414"/>
<circle cx="509" cy="153.3" r="1.55" fill="#141414"/>
<line x1="476.9" y1="131.5" x2="476.9" y2="141.8" stroke="#8a8a8a" stroke-width="0.6"/>
<line x1="483.6" y1="131.5" x2="483.6" y2="141.8" stroke="#8a8a8a" stroke-width="0.6"/>
<line x1="470.9" y1="138.2" x2="476.6" y2="138.2" stroke="#141414" stroke-width="0.8"/>
<path d="M476.6,138.2 L474,139.7 L474,136.7 Z" fill="#141414"/>
<line x1="489.6" y1="138.2" x2="483.9" y2="138.2" stroke="#141414" stroke-width="0.8"/>
<path d="M483.9,138.2 L486.5,136.7 L486.5,139.7 Z" fill="#141414"/>
<text x="480.55" y="135.8" font-family="'Liberation Serif', serif" font-size="7.5" font-weight="normal" font-style="normal" text-anchor="middle" fill="#141414">&#960;</text>
<line x1="515.5" y1="131.5" x2="515.5" y2="141.8" stroke="#8a8a8a" stroke-width="0.6"/>
<line x1="519.5" y1="131.5" x2="519.5" y2="141.8" stroke="#8a8a8a" stroke-width="0.6"/>
<line x1="509.5" y1="138.2" x2="515.2" y2="138.2" stroke="#141414" stroke-width="0.8"/>
<path d="M515.2,138.2 L512.6,139.7 L512.6,136.7 Z" fill="#141414"/>
<line x1="525.5" y1="138.2" x2="519.8" y2="138.2" stroke="#141414" stroke-width="0.8"/>
<path d="M519.8,138.2 L522.4,136.7 L522.4,139.7 Z" fill="#141414"/>
<text x="517.8" y="135.8" font-family="'Liberation Serif', serif" font-size="7.5" font-weight="normal" font-style="normal" text-anchor="middle" fill="#141414">2&#934;</text>
<text x="393.7" y="144.6" font-family="'Liberation Serif', serif" font-size="8" font-weight="bold" font-style="normal" text-anchor="end" fill="#141414" stroke="#141414" stroke-width="0.16">V<tspan font-size="66%">DD</tspan></text>
<text x="386.4" y="163" font-family="'Liberation Serif', serif" font-size="8.5" font-weight="bold" font-style="normal" text-anchor="middle" fill="#141414" stroke="#141414" stroke-width="0.16">0</text>
<text transform="translate(375,152) rotate(-90)" font-family="'Liberation Serif', serif" font-size="9" font-weight="bold" font-style="normal" text-anchor="middle" fill="#141414" dominant-baseline="central">V(P<tspan font-size="66%">N</tspan>)</text>
<text x="536.6" y="171" font-family="'Liberation Serif', serif" font-size="8" font-weight="normal" font-style="italic" text-anchor="start" fill="#141414">t</text>
<line x1="396.5" y1="171.5" x2="396.5" y2="202.9" stroke="#141414" stroke-width="1.3"/>
<path d="M396.5,169 L398.6,173 L394.4,173 Z" fill="#141414"/>
<line x1="396.5" y1="202.9" x2="538.5" y2="202.9" stroke="#141414" stroke-width="1.3"/>
<path d="M541,202.9 L537,205 L537,200.8 Z" fill="#141414"/>
<line x1="397.5" y1="198.8" x2="540" y2="198.8" stroke="#c4c4c4" stroke-width="0.8" stroke-dasharray="1.2,1.2"/>
<path d="M396.5,187.8 L458,187.7 C462,187.6 465,187.2 467,186.4 C468.5,185.8 469.5,185.3 470.3,185.4 C471.5,185.6 473,187.6 474.6,188.4 C475.6,190 476.2,196 477.2,198.5 L478.0,198.6 C479.2,191 479.8,180.2 481.1,180.2 C482.4,180.2 483.2,190 484.4,198.6 L488.6,198.6 C489.8,190 490.3,173.8 491.8,173.8 C493.3,173.8 493.9,190 495.0,198.6 L499.6,198.6" fill="none" stroke="#1a1a1a" stroke-width="1.5"/>
<path d="M507.2,198.6 L515.2,198.6 C516.3,190 516.8,176.8 518.1,176.8 C519.4,176.8 519.8,190 520.9,198.6 L528.2,198.6 C529.3,190 529.8,176.8 531.1,176.8 C532.4,176.8 532.8,190 533.9,198.6 L542.4,198.6" fill="none" stroke="#1a1a1a" stroke-width="1.5"/>
<circle cx="502.2" cy="187.7" r="1.55" fill="#141414"/>
<circle cx="505.8" cy="187.7" r="1.55" fill="#141414"/>
<circle cx="509.4" cy="187.7" r="1.55" fill="#141414"/>
<text x="393.4" y="190" font-family="'Liberation Serif', serif" font-size="8" font-weight="bold" font-style="normal" text-anchor="end" fill="#141414" stroke="#141414" stroke-width="0.16">I<tspan font-size="66%">Init</tspan></text>
<text x="389.6" y="202.2" font-family="'Liberation Serif', serif" font-size="8.5" font-weight="bold" font-style="normal" text-anchor="middle" fill="#141414" stroke="#141414" stroke-width="0.16">0</text>
<text transform="translate(375,190) rotate(-90)" font-family="'Liberation Serif', serif" font-size="9" font-weight="bold" font-style="normal" text-anchor="middle" fill="#141414" dominant-baseline="central">I(M<tspan font-size="66%">T</tspan>)</text>
<line x1="509" y1="208.1" x2="539.5" y2="208.1" stroke="#141414" stroke-width="1.2"/>
<path d="M506.4,208.1 L509.6,206.3 L509.6,209.9 Z" fill="#141414"/>
<path d="M542,208.1 L538.8,209.9 L538.8,206.3 Z" fill="#141414"/>
<text x="522.5" y="217" font-family="'Liberation Serif', serif" font-size="8.8" font-weight="bold" font-style="normal" text-anchor="middle" fill="#141414" stroke="#141414" stroke-width="0.16">Steady-state</text>
<line x1="68.6" y1="269.8" x2="87.8" y2="269.8" stroke="#141414" stroke-width="1.3"/>
<line x1="78.3" y1="269.8" x2="78.3" y2="286.4" stroke="#141414" stroke-width="1.25"/>
<circle cx="78.3" cy="286.4" r="1.8" fill="#141414"/>
<path d="M34.1,308.1 L34.1,286.4 L39.4,286.5 L39.47,286.21 L39.55,285.92 L39.64,285.63 L39.74,285.34 L39.85,285.06 L39.98,284.78 L40.12,284.51 L40.26,284.24 L40.42,283.98 L40.59,283.73 L40.77,283.49 L40.97,283.25 L41.17,283.03 L41.37,282.81 L41.59,282.61 L41.82,282.42 L42.05,282.24 L42.29,282.07 L42.54,281.92 L42.79,281.78 L43.05,281.65 L43.32,281.54 L43.58,281.45 L43.86,281.37 L44.13,281.3 L44.41,281.25 L44.69,281.22 L44.97,281.2 L45.25,281.2 L45.53,281.22 L45.81,281.25 L46.08,281.29 L46.36,281.36 L46.63,281.43 L46.9,281.53 L47.17,281.64 L47.43,281.76 L47.68,281.9 L47.93,282.05 L48.17,282.21 L48.4,282.39 L48.63,282.58 L48.85,282.78 L49.06,283 L49.26,283.22 L49.45,283.45 L49.64,283.7 L49.81,283.95 L49.97,284.21 L50.12,284.47 L50.26,284.74 L50.39,285.02 L50.5,285.3 L50.61,285.59 L50.7,285.88 L50.78,286.17 L50.85,286.46 L50.9,286.75 L50.95,287.04 L50.98,287.33 L51,287.62 L51.01,287.9 L51,288.18 L50.99,288.45 L50.96,288.72 L50.93,288.98 L50.88,289.23 L50.82,289.48 L50.75,289.72 L50.67,289.94 L50.59,290.16 L50.49,290.36 L50.39,290.56 L50.28,290.74 L50.16,290.91 L50.03,291.06 L49.9,291.2 L49.76,291.33 L49.62,291.44 L49.47,291.54 L49.32,291.62 L49.17,291.69 L49.01,291.74 L48.86,291.78 L48.7,291.8 L48.54,291.8 L48.38,291.79 L48.22,291.76 L48.06,291.71 L47.91,291.65 L47.76,291.58 L47.61,291.49 L47.46,291.38 L47.32,291.26 L47.19,291.12 L47.06,290.97 L46.94,290.81 L46.83,290.64 L46.72,290.45 L46.62,290.25 L46.53,290.04 L46.45,289.81 L46.37,289.58 L46.31,289.34 L46.26,289.09 L46.22,288.83 L46.19,288.57 L46.17,288.3 L46.16,288.02 L46.16,287.74 L46.18,287.45 L46.2,287.16 L46.24,286.87 L46.29,286.58 L46.36,286.29 L46.43,286 L46.52,285.71 L46.62,285.43 L46.73,285.14 L46.85,284.86 L46.99,284.59 L47.13,284.32 L47.29,284.06 L47.46,283.8 L47.63,283.56 L47.82,283.32 L48.02,283.09 L48.23,282.87 L48.44,282.67 L48.66,282.47 L48.9,282.29 L49.13,282.12 L49.38,281.96 L49.63,281.82 L49.89,281.69 L50.15,281.57 L50.42,281.47 L50.69,281.39 L50.96,281.32 L51.24,281.27 L51.52,281.23 L51.8,281.21 L52.08,281.2 L52.36,281.21 L52.64,281.24 L52.92,281.28 L53.19,281.34 L53.47,281.41 L53.74,281.5 L54,281.6 L54.26,281.72 L54.52,281.86 L54.77,282 L55.01,282.16 L55.25,282.34 L55.48,282.52 L55.7,282.72 L55.91,282.93 L56.12,283.15 L56.31,283.38 L56.5,283.63 L56.67,283.87 L56.84,284.13 L56.99,284.4 L57.13,284.67 L57.26,284.94 L57.38,285.22 L57.49,285.51 L57.58,285.79 L57.67,286.08 L57.74,286.38 L57.8,286.67 L57.85,286.96 L57.88,287.25 L57.91,287.53 L57.92,287.82 L57.92,288.1 L57.91,288.37 L57.88,288.64 L57.85,288.91 L57.8,289.16 L57.75,289.41 L57.68,289.65 L57.61,289.88 L57.53,290.1 L57.43,290.31 L57.33,290.5 L57.22,290.69 L57.1,290.86 L56.98,291.02 L56.85,291.16 L56.71,291.3 L56.57,291.41 L56.43,291.51 L56.28,291.6 L56.13,291.67 L55.97,291.73 L55.81,291.77 L55.65,291.79 L55.5,291.8 L55.34,291.79 L55.18,291.77 L55.02,291.73 L54.86,291.67 L54.71,291.6 L54.56,291.51 L54.42,291.41 L54.28,291.3 L54.14,291.16 L54.01,291.02 L53.89,290.86 L53.77,290.69 L53.66,290.5 L53.56,290.31 L53.46,290.1 L53.38,289.88 L53.31,289.65 L53.24,289.41 L53.19,289.16 L53.14,288.91 L53.11,288.64 L53.08,288.37 L53.07,288.1 L53.07,287.82 L53.08,287.53 L53.11,287.25 L53.14,286.96 L53.19,286.67 L53.25,286.38 L53.32,286.08 L53.41,285.79 L53.5,285.51 L53.61,285.22 L53.73,284.94 L53.86,284.67 L54,284.4 L54.15,284.13 L54.32,283.87 L54.49,283.63 L54.68,283.38 L54.87,283.15 L55.08,282.93 L55.29,282.72 L55.51,282.52 L55.74,282.34 L55.98,282.16 L56.22,282 L56.47,281.86 L56.73,281.72 L56.99,281.6 L57.25,281.5 L57.52,281.41 L57.8,281.34 L58.07,281.28 L58.35,281.24 L58.63,281.21 L58.91,281.2 L59.19,281.21 L59.47,281.23 L59.75,281.27 L60.03,281.32 L60.3,281.39 L60.57,281.47 L60.84,281.57 L61.1,281.69 L61.36,281.82 L61.61,281.96 L61.86,282.12 L62.09,282.29 L62.33,282.47 L62.55,282.67 L62.77,282.87 L62.97,283.09 L63.17,283.32 L63.36,283.56 L63.53,283.8 L63.7,284.06 L63.86,284.32 L64,284.59 L64.14,284.86 L64.26,285.14 L64.37,285.43 L64.47,285.71 L64.56,286 L64.63,286.29 L64.7,286.58 L64.75,286.87 L64.79,287.16 L64.81,287.45 L64.83,287.74 L64.83,288.02 L64.82,288.3 L64.8,288.57 L64.77,288.83 L64.73,289.09 L64.68,289.34 L64.62,289.58 L64.54,289.81 L64.46,290.04 L64.37,290.25 L64.27,290.45 L64.16,290.64 L64.05,290.81 L63.93,290.97 L63.8,291.12 L63.67,291.26 L63.53,291.38 L63.38,291.49 L63.23,291.58 L63.08,291.65 L62.93,291.71 L62.77,291.76 L62.61,291.79 L62.45,291.8 L62.29,291.8 L62.13,291.78 L61.98,291.74 L61.82,291.69 L61.67,291.62 L61.52,291.54 L61.37,291.44 L61.23,291.33 L61.09,291.2 L60.96,291.06 L60.83,290.91 L60.71,290.74 L60.6,290.56 L60.5,290.36 L60.4,290.16 L60.32,289.94 L60.24,289.72 L60.17,289.48 L60.11,289.23 L60.06,288.98 L60.03,288.72 L60,288.45 L59.99,288.18 L59.98,287.9 L59.99,287.62 L60.01,287.33 L60.04,287.04 L60.09,286.75 L60.14,286.46 L60.21,286.17 L60.29,285.88 L60.38,285.59 L60.49,285.3 L60.6,285.02 L60.73,284.74 L60.87,284.47 L61.02,284.21 L61.18,283.95 L61.35,283.7 L61.54,283.45 L61.73,283.22 L61.93,283 L62.14,282.78 L62.36,282.58 L62.59,282.39 L62.82,282.21 L63.06,282.05 L63.31,281.9 L63.56,281.76 L63.82,281.64 L64.09,281.53 L64.36,281.43 L64.63,281.36 L64.91,281.29 L65.18,281.25 L65.46,281.22 L65.74,281.2 L66.02,281.2 L66.3,281.22 L66.58,281.25 L66.86,281.3 L67.13,281.37 L67.41,281.45 L67.67,281.54 L67.94,281.65 L68.2,281.78 L68.45,281.92 L68.7,282.07 L68.94,282.24 L69.17,282.42 L69.4,282.61 L69.62,282.81 L69.83,283.03 L70.03,283.25 L70.22,283.49 L70.4,283.73 L70.57,283.98 L70.73,284.24 L70.87,284.51 L71.01,284.78 L71.14,285.06 L71.25,285.34 L71.35,285.63 L71.45,285.92 L71.52,286.21 L71.59,286.5 L78.3,286.4" fill="none" stroke="#141414" stroke-width="1.25" stroke-linejoin="round"/>
<path d="M78.3,286.4 L85.01,286.5 L85.08,286.21 L85.15,285.92 L85.25,285.63 L85.35,285.34 L85.46,285.06 L85.59,284.78 L85.73,284.51 L85.87,284.24 L86.03,283.98 L86.2,283.73 L86.38,283.49 L86.57,283.25 L86.77,283.03 L86.98,282.81 L87.2,282.61 L87.43,282.42 L87.66,282.24 L87.9,282.07 L88.15,281.92 L88.4,281.78 L88.66,281.65 L88.93,281.54 L89.19,281.45 L89.47,281.37 L89.74,281.3 L90.02,281.25 L90.3,281.22 L90.58,281.2 L90.86,281.2 L91.14,281.22 L91.42,281.25 L91.69,281.29 L91.97,281.36 L92.24,281.43 L92.51,281.53 L92.78,281.64 L93.04,281.76 L93.29,281.9 L93.54,282.05 L93.78,282.21 L94.01,282.39 L94.24,282.58 L94.46,282.78 L94.67,283 L94.87,283.22 L95.06,283.45 L95.25,283.7 L95.42,283.95 L95.58,284.21 L95.73,284.47 L95.87,284.74 L96,285.02 L96.11,285.3 L96.22,285.59 L96.31,285.88 L96.39,286.17 L96.46,286.46 L96.51,286.75 L96.56,287.04 L96.59,287.33 L96.61,287.62 L96.62,287.9 L96.61,288.18 L96.6,288.45 L96.57,288.72 L96.54,288.98 L96.49,289.23 L96.43,289.48 L96.36,289.72 L96.28,289.94 L96.2,290.16 L96.1,290.36 L96,290.56 L95.89,290.74 L95.77,290.91 L95.64,291.06 L95.51,291.2 L95.37,291.33 L95.23,291.44 L95.08,291.54 L94.93,291.62 L94.78,291.69 L94.62,291.74 L94.47,291.78 L94.31,291.8 L94.15,291.8 L93.99,291.79 L93.83,291.76 L93.67,291.71 L93.52,291.65 L93.37,291.58 L93.22,291.49 L93.07,291.38 L92.93,291.26 L92.8,291.12 L92.67,290.97 L92.55,290.81 L92.44,290.64 L92.33,290.45 L92.23,290.25 L92.14,290.04 L92.06,289.81 L91.98,289.58 L91.92,289.34 L91.87,289.09 L91.83,288.83 L91.8,288.57 L91.78,288.3 L91.77,288.02 L91.77,287.74 L91.79,287.45 L91.81,287.16 L91.85,286.87 L91.9,286.58 L91.97,286.29 L92.04,286 L92.13,285.71 L92.23,285.43 L92.34,285.14 L92.46,284.86 L92.6,284.59 L92.74,284.32 L92.9,284.06 L93.07,283.8 L93.24,283.56 L93.43,283.32 L93.63,283.09 L93.83,282.87 L94.05,282.67 L94.27,282.47 L94.51,282.29 L94.74,282.12 L94.99,281.96 L95.24,281.82 L95.5,281.69 L95.76,281.57 L96.03,281.47 L96.3,281.39 L96.57,281.32 L96.85,281.27 L97.13,281.23 L97.41,281.21 L97.69,281.2 L97.97,281.21 L98.25,281.24 L98.53,281.28 L98.8,281.34 L99.08,281.41 L99.35,281.5 L99.61,281.6 L99.87,281.72 L100.13,281.86 L100.38,282 L100.62,282.16 L100.86,282.34 L101.09,282.52 L101.31,282.72 L101.52,282.93 L101.73,283.15 L101.92,283.38 L102.11,283.63 L102.28,283.87 L102.45,284.13 L102.6,284.4 L102.74,284.67 L102.87,284.94 L102.99,285.22 L103.1,285.51 L103.19,285.79 L103.28,286.08 L103.35,286.38 L103.41,286.67 L103.46,286.96 L103.49,287.25 L103.52,287.53 L103.53,287.82 L103.53,288.1 L103.52,288.37 L103.49,288.64 L103.46,288.91 L103.41,289.16 L103.36,289.41 L103.29,289.65 L103.22,289.88 L103.14,290.1 L103.04,290.31 L102.94,290.5 L102.83,290.69 L102.71,290.86 L102.59,291.02 L102.46,291.16 L102.32,291.3 L102.18,291.41 L102.04,291.51 L101.89,291.6 L101.74,291.67 L101.58,291.73 L101.42,291.77 L101.26,291.79 L101.1,291.8 L100.95,291.79 L100.79,291.77 L100.63,291.73 L100.47,291.67 L100.32,291.6 L100.17,291.51 L100.03,291.41 L99.89,291.3 L99.75,291.16 L99.62,291.02 L99.5,290.86 L99.38,290.69 L99.27,290.5 L99.17,290.31 L99.07,290.1 L98.99,289.88 L98.92,289.65 L98.85,289.41 L98.8,289.16 L98.75,288.91 L98.72,288.64 L98.69,288.37 L98.68,288.1 L98.68,287.82 L98.69,287.53 L98.72,287.25 L98.75,286.96 L98.8,286.67 L98.86,286.38 L98.93,286.08 L99.02,285.79 L99.11,285.51 L99.22,285.22 L99.34,284.94 L99.47,284.67 L99.61,284.4 L99.76,284.13 L99.93,283.87 L100.1,283.63 L100.29,283.38 L100.48,283.15 L100.69,282.93 L100.9,282.72 L101.12,282.52 L101.35,282.34 L101.59,282.16 L101.83,282 L102.08,281.86 L102.34,281.72 L102.6,281.6 L102.86,281.5 L103.13,281.41 L103.41,281.34 L103.68,281.28 L103.96,281.24 L104.24,281.21 L104.52,281.2 L104.8,281.21 L105.08,281.23 L105.36,281.27 L105.64,281.32 L105.91,281.39 L106.18,281.47 L106.45,281.57 L106.71,281.69 L106.97,281.82 L107.22,281.96 L107.47,282.12 L107.7,282.29 L107.94,282.47 L108.16,282.67 L108.37,282.87 L108.58,283.09 L108.78,283.32 L108.97,283.56 L109.14,283.8 L109.31,284.06 L109.47,284.32 L109.61,284.59 L109.75,284.86 L109.87,285.14 L109.98,285.43 L110.08,285.71 L110.17,286 L110.24,286.29 L110.31,286.58 L110.36,286.87 L110.4,287.16 L110.42,287.45 L110.44,287.74 L110.44,288.02 L110.43,288.3 L110.41,288.57 L110.38,288.83 L110.34,289.09 L110.29,289.34 L110.23,289.58 L110.15,289.81 L110.07,290.04 L109.98,290.25 L109.88,290.45 L109.77,290.64 L109.66,290.81 L109.54,290.97 L109.41,291.12 L109.28,291.26 L109.14,291.38 L108.99,291.49 L108.84,291.58 L108.69,291.65 L108.54,291.71 L108.38,291.76 L108.22,291.79 L108.06,291.8 L107.9,291.8 L107.74,291.78 L107.59,291.74 L107.43,291.69 L107.28,291.62 L107.13,291.54 L106.98,291.44 L106.84,291.33 L106.7,291.2 L106.57,291.06 L106.44,290.91 L106.32,290.74 L106.21,290.56 L106.11,290.36 L106.01,290.16 L105.93,289.94 L105.85,289.72 L105.78,289.48 L105.72,289.23 L105.67,288.98 L105.64,288.72 L105.61,288.45 L105.6,288.18 L105.59,287.9 L105.6,287.62 L105.62,287.33 L105.65,287.04 L105.7,286.75 L105.75,286.46 L105.82,286.17 L105.9,285.88 L105.99,285.59 L106.1,285.3 L106.21,285.02 L106.34,284.74 L106.48,284.47 L106.63,284.21 L106.79,283.95 L106.96,283.7 L107.15,283.45 L107.34,283.22 L107.54,283 L107.75,282.78 L107.97,282.58 L108.2,282.39 L108.43,282.21 L108.67,282.05 L108.92,281.9 L109.17,281.76 L109.43,281.64 L109.7,281.53 L109.97,281.43 L110.24,281.36 L110.52,281.29 L110.79,281.25 L111.07,281.22 L111.35,281.2 L111.63,281.2 L111.91,281.22 L112.19,281.25 L112.47,281.3 L112.74,281.37 L113.02,281.45 L113.28,281.54 L113.55,281.65 L113.81,281.78 L114.06,281.92 L114.31,282.07 L114.55,282.24 L114.78,282.42 L115.01,282.61 L115.23,282.81 L115.43,283.03 L115.63,283.25 L115.83,283.49 L116.01,283.73 L116.18,283.98 L116.34,284.24 L116.48,284.51 L116.62,284.78 L116.75,285.06 L116.86,285.34 L116.96,285.63 L117.05,285.92 L117.13,286.21 L117.2,286.5 L122.6,286.4 L122.6,308.1" fill="none" stroke="#141414" stroke-width="1.25" stroke-linejoin="round"/>
<line x1="34.1" y1="308.1" x2="54.9" y2="308.1" stroke="#141414" stroke-width="1.25"/>
<line x1="54.9" y1="302.2" x2="54.9" y2="314.5" stroke="#141414" stroke-width="1.3"/>
<line x1="59.2" y1="302.2" x2="59.2" y2="314.5" stroke="#141414" stroke-width="1.3"/>
<line x1="59.2" y1="308.1" x2="98" y2="308.1" stroke="#141414" stroke-width="1.25"/>
<line x1="98" y1="302.2" x2="98" y2="314.5" stroke="#141414" stroke-width="1.3"/>
<line x1="102.3" y1="302.2" x2="102.3" y2="314.5" stroke="#141414" stroke-width="1.3"/>
<line x1="102.3" y1="308.1" x2="122.6" y2="308.1" stroke="#141414" stroke-width="1.25"/>
<circle cx="34.1" cy="296.3" r="1.8" fill="#141414"/>
<circle cx="122.6" cy="296.3" r="1.8" fill="#141414"/>
<path d="M34.1,296.3 L22.5,296.3 L22.5,435.6 L45.5,435.6" fill="none" stroke="#141414" stroke-width="1.25" stroke-linejoin="round"/>
<path d="M122.6,296.3 L135,296.3 L135,379.5 L121,379.5" fill="none" stroke="#141414" stroke-width="1.25" stroke-linejoin="round"/>
<circle cx="22.5" cy="386.7" r="1.8" fill="#141414"/>
<line x1="22.5" y1="386.7" x2="115" y2="386.7" stroke="#141414" stroke-width="1.25"/>
<path d="M117.4,386.7 L112.6,389.2 L112.6,384.2 Z" fill="#141414"/>
<line x1="121" y1="376.3" x2="121" y2="397.3" stroke="#141414" stroke-width="1.7"/>
<line x1="117.8" y1="379.6" x2="117.8" y2="394.2" stroke="#141414" stroke-width="1.7"/>
<line x1="121" y1="393.5" x2="135" y2="393.5" stroke="#141414" stroke-width="1.25"/>
<path d="M134,393.5 L129.4,395.9 L129.4,391.1 Z" fill="#141414"/>
<line x1="135" y1="393.5" x2="135" y2="427.2" stroke="#141414" stroke-width="1.25"/>
<line x1="135" y1="427.2" x2="121" y2="427.2" stroke="#141414" stroke-width="1.25"/>
<line x1="121" y1="424.2" x2="121" y2="444.6" stroke="#141414" stroke-width="1.7"/>
<line x1="117.8" y1="427.2" x2="117.8" y2="441.8" stroke="#141414" stroke-width="1.7"/>
<line x1="66.5" y1="435.6" x2="115" y2="435.6" stroke="#141414" stroke-width="1.25"/>
<path d="M117.4,435.6 L112.6,438.1 L112.6,433.1 Z" fill="#141414"/>
<line x1="121" y1="441.5" x2="135" y2="441.5" stroke="#141414" stroke-width="1.25"/>
<path d="M134,441.5 L129.4,443.9 L129.4,439.1 Z" fill="#141414"/>
<line x1="135" y1="441.5" x2="135" y2="466.3" stroke="#141414" stroke-width="1.25"/>
<line x1="128.9" y1="466.3" x2="141.1" y2="466.3" stroke="#141414" stroke-width="1.4"/>
<line x1="130.6" y1="468.8" x2="139.4" y2="468.8" stroke="#141414" stroke-width="1.4"/>
<line x1="132.6" y1="471.3" x2="137.4" y2="471.3" stroke="#141414" stroke-width="1.4"/>
<circle cx="56" cy="435.6" r="10.5" fill="#fff" stroke="#141414" stroke-width="1.2"/>
<path d="M49.7,439.59 L54.22,439.59 L54.22,429.3 L57.78,429.3 L57.78,439.59 L62.3,439.59" fill="none" stroke="#141414" stroke-width="1.3" stroke-linejoin="round" stroke-linejoin="miter"/>
<text x="81" y="383.4" font-family="'Liberation Serif', serif" font-size="9.5" font-weight="bold" font-style="normal" text-anchor="start" fill="#141414" stroke="#141414" stroke-width="0.16">V<tspan font-size="66%">g,cc</tspan></text>
<text x="82.8" y="431.4" font-family="'Liberation Serif', serif" font-size="9.5" font-weight="bold" font-style="normal" text-anchor="start" fill="#141414" stroke="#141414" stroke-width="0.16">V<tspan font-size="66%">g,t</tspan></text>
<line x1="45.2" y1="451.8" x2="45.2" y2="461.5" stroke="#8c8c8c" stroke-width="1.1" stroke-dasharray="1.1,3.1"/>
<line x1="68" y1="451.8" x2="68" y2="461.5" stroke="#8c8c8c" stroke-width="1.1" stroke-dasharray="1.1,3.1"/>
<line x1="48.5" y1="456.5" x2="53.6" y2="456.5" stroke="#8c8c8c" stroke-width="1"/>
<path d="M46.2,456.5 L50.2,454.2 L50.2,458.8 Z" fill="#8c8c8c"/>
<line x1="59.6" y1="456.5" x2="64.8" y2="456.5" stroke="#8c8c8c" stroke-width="1"/>
<path d="M67,456.5 L63,458.8 L63,454.2 Z" fill="#8c8c8c"/>
<text x="56.4" y="468.8" font-family="'Liberation Serif', serif" font-size="11.5" font-weight="normal" font-style="italic" text-anchor="middle" fill="#939393">t<tspan font-size="62%">d</tspan></text>
<line x1="204.6" y1="278" x2="204.6" y2="464" stroke="#8a8a8a" stroke-width="0.8" stroke-dasharray="1.6,1.6"/>
<line x1="223.1" y1="306.4" x2="223.1" y2="464" stroke="#8a8a8a" stroke-width="0.8" stroke-dasharray="1.6,1.6"/>
<line x1="260.1" y1="306.4" x2="260.1" y2="464" stroke="#8a8a8a" stroke-width="0.8" stroke-dasharray="1.6,1.6"/>
<line x1="278.6" y1="278" x2="278.6" y2="464" stroke="#8a8a8a" stroke-width="0.8" stroke-dasharray="1.6,1.6"/>
<line x1="197.9" y1="306.4" x2="286.8" y2="306.4" stroke="#555" stroke-width="0.9"/>
<line x1="241.6" y1="278.6" x2="241.6" y2="306.4" stroke="#8a8a8a" stroke-width="1"/>
<path d="M204.6,277.9 L204.85,277.9 L205.09,277.9 L205.34,277.9 L205.59,277.9 L205.83,277.9 L206.08,277.9 L206.33,277.9 L206.57,277.9 L206.82,277.9 L207.07,277.9 L207.31,277.9 L207.56,277.9 L207.81,277.9 L208.05,277.9 L208.3,277.9 L208.55,277.9 L208.79,277.9 L209.04,277.9 L209.29,277.9 L209.53,277.9 L209.78,277.9 L210.03,277.9 L210.27,277.9 L210.52,277.9 L210.77,277.9 L211.01,277.9 L211.26,277.9 L211.51,277.9 L211.75,277.92 L212,277.95 L212.25,277.99 L212.49,278.04 L212.74,278.11 L212.99,278.18 L213.23,278.27 L213.48,278.37 L213.73,278.49 L213.97,278.61 L214.22,278.75 L214.47,278.9 L214.71,279.06 L214.96,279.23 L215.21,279.41 L215.45,279.6 L215.7,279.81 L215.95,280.03 L216.19,280.26 L216.44,280.5 L216.69,280.75 L216.93,281.01 L217.18,281.28 L217.43,281.56 L217.67,281.86 L217.92,282.16 L218.17,282.48 L218.41,282.8 L218.66,283.14 L218.91,283.48 L219.15,283.83 L219.4,284.2 L219.65,284.57 L219.89,284.95 L220.14,285.34 L220.39,285.74 L220.63,286.15 L220.88,286.57 L221.13,287 L221.37,287.43 L221.62,287.87 L221.87,288.32 L222.11,288.78 L222.36,289.24 L222.61,289.71 L222.85,290.19 L223.1,290.68 L223.35,291.17 L223.59,291.67 L223.84,292.17 L224.09,292.68 L224.33,293.2 L224.58,293.72 L224.83,294.25 L225.07,294.78 L225.32,295.32 L225.57,295.86 L225.81,296.4 L226.06,296.95 L226.31,297.5 L226.55,298.06 L226.8,298.62 L227.05,299.18 L227.29,299.75 L227.54,300.32 L227.79,300.89 L228.03,301.46 L228.28,302.03 L228.53,302.61 L228.77,303.19 L229.02,303.77 L229.27,304.35 L229.51,304.93 L229.76,305.51 L230.01,306.09 L230.25,306.67 L230.5,307.25 L230.75,307.82 L230.99,308.4 L231.24,308.98 L231.49,309.55 L231.73,310.13 L231.98,310.7 L232.23,311.27 L232.47,311.83 L232.72,312.4 L232.97,312.96 L233.21,313.52 L233.46,314.07 L233.71,314.62 L233.95,315.17 L234.2,315.71 L234.45,316.25 L234.69,316.78 L234.94,317.31 L235.19,317.83 L235.43,318.35 L235.68,318.86 L235.93,319.37 L236.17,319.87 L236.42,320.36 L236.67,320.85 L236.91,321.33 L237.16,321.81 L237.41,322.27 L237.65,322.73 L237.9,323.18 L238.15,323.63 L238.39,324.06 L238.64,324.49 L238.89,324.91 L239.13,325.32 L239.38,325.73 L239.63,326.12 L239.87,326.51 L240.12,326.88 L240.37,327.25 L240.61,327.61 L240.86,327.95 L241.11,328.29 L241.35,328.62 L241.6,328.94 L241.85,329.24 L242.09,329.54 L242.34,329.83 L242.59,330.1 L242.83,330.37 L243.08,330.62 L243.33,330.87 L243.57,331.1 L243.82,331.32 L244.07,331.53 L244.31,331.73 L244.56,331.92 L244.81,332.09 L245.05,332.25 L245.3,332.41 L245.55,332.55 L245.79,332.67 L246.04,332.79 L246.29,332.9 L246.53,332.99 L246.78,333.07 L247.03,333.14 L247.27,333.19 L247.52,333.24 L247.77,333.27 L248.01,333.29 L248.26,333.3 L248.51,333.3 L248.75,333.28 L249,333.25 L249.25,333.21 L249.49,333.16 L249.74,333.09 L249.99,333.02 L250.23,332.93 L250.48,332.83 L250.73,332.71 L250.97,332.59 L251.22,332.45 L251.47,332.3 L251.71,332.14 L251.96,331.97 L252.21,331.79 L252.45,331.6 L252.7,331.39 L252.95,331.17 L253.19,330.94 L253.44,330.7 L253.69,330.45 L253.93,330.19 L254.18,329.92 L254.43,329.64 L254.67,329.34 L254.92,329.04 L255.17,328.72 L255.41,328.4 L255.66,328.06 L255.91,327.72 L256.15,327.37 L256.4,327 L256.65,326.63 L256.89,326.25 L257.14,325.86 L257.39,325.46 L257.63,325.05 L257.88,324.63 L258.13,324.2 L258.37,323.77 L258.62,323.33 L258.87,322.88 L259.11,322.42 L259.36,321.96 L259.61,321.49 L259.85,321.01 L260.1,320.52 L260.35,320.03 L260.59,319.53 L260.84,319.03 L261.09,318.52 L261.33,318 L261.58,317.48 L261.83,316.95 L262.07,316.42 L262.32,315.88 L262.57,315.34 L262.81,314.8 L263.06,314.25 L263.31,313.7 L263.55,313.14 L263.8,312.58 L264.05,312.02 L264.29,311.45 L264.54,310.88 L264.79,310.31 L265.03,309.74 L265.28,309.17 L265.53,308.59 L265.77,308.01 L266.02,307.43 L266.27,306.85 L266.51,306.27 L266.76,305.69 L267.01,305.11 L267.25,304.53 L267.5,303.95 L267.75,303.38 L267.99,302.8 L268.24,302.22 L268.49,301.65 L268.73,301.07 L268.98,300.5 L269.23,299.93 L269.47,299.37 L269.72,298.8 L269.97,298.24 L270.21,297.68 L270.46,297.13 L270.71,296.58 L270.95,296.03 L271.2,295.49 L271.45,294.95 L271.69,294.42 L271.94,293.89 L272.19,293.37 L272.43,292.85 L272.68,292.34 L272.93,291.83 L273.17,291.33 L273.42,290.84 L273.67,290.35 L273.91,289.87 L274.16,289.39 L274.41,288.93 L274.65,288.47 L274.9,288.02 L275.15,287.57 L275.39,287.14 L275.64,286.71 L275.89,286.29 L276.13,285.88 L276.38,285.47 L276.63,285.08 L276.87,284.69 L277.12,284.32 L277.37,283.95 L277.61,283.59 L277.86,283.25 L278.11,282.91 L278.35,282.58 L278.6,282.26" fill="none" stroke="#e8343a" stroke-width="1.35" stroke-linejoin="round" stroke-dasharray="1.3,1.3"/>
<path d="M204.6,277.9 L204.85,277.91 L205.09,277.92 L205.34,277.95 L205.59,278 L205.83,278.05 L206.08,278.12 L206.33,278.2 L206.57,278.29 L206.82,278.39 L207.07,278.51 L207.31,278.63 L207.56,278.77 L207.81,278.92 L208.05,279.08 L208.3,279.26 L208.55,279.44 L208.79,279.64 L209.04,279.85 L209.29,280.06 L209.53,280.29 L209.78,280.54 L210.03,280.79 L210.27,281.05 L210.52,281.33 L210.77,281.61 L211.01,281.91 L211.26,282.21 L211.51,282.53 L211.75,282.85 L212,283.19 L212.25,283.54 L212.49,283.89 L212.74,284.26 L212.99,284.63 L213.23,285.01 L213.48,285.41 L213.73,285.81 L213.97,286.22 L214.22,286.64 L214.47,287.07 L214.71,287.5 L214.96,287.94 L215.21,288.39 L215.45,288.85 L215.7,289.32 L215.95,289.79 L216.19,290.27 L216.44,290.76 L216.69,291.25 L216.93,291.75 L217.18,292.26 L217.43,292.77 L217.67,293.28 L217.92,293.81 L218.17,294.33 L218.41,294.87 L218.66,295.4 L218.91,295.94 L219.15,296.49 L219.4,297.04 L219.65,297.59 L219.89,298.15 L220.14,298.71 L220.39,299.27 L220.63,299.84 L220.88,300.41 L221.13,300.98 L221.37,301.55 L221.62,302.13 L221.87,302.7 L222.11,303.28 L222.36,303.86 L222.61,304.44 L222.85,305.02 L223.1,305.6 L223.35,306.18 L223.59,306.76 L223.84,307.34 L224.09,307.92 L224.33,308.5 L224.58,309.07 L224.83,309.65 L225.07,310.22 L225.32,310.79 L225.57,311.36 L225.81,311.93 L226.06,312.49 L226.31,313.05 L226.55,313.61 L226.8,314.16 L227.05,314.71 L227.29,315.26 L227.54,315.8 L227.79,316.33 L228.03,316.87 L228.28,317.39 L228.53,317.92 L228.77,318.43 L229.02,318.94 L229.27,319.45 L229.51,319.95 L229.76,320.44 L230.01,320.93 L230.25,321.41 L230.5,321.88 L230.75,322.35 L230.99,322.81 L231.24,323.26 L231.49,323.7 L231.73,324.13 L231.98,324.56 L232.23,324.98 L232.47,325.39 L232.72,325.79 L232.97,326.19 L233.21,326.57 L233.46,326.94 L233.71,327.31 L233.95,327.66 L234.2,328.01 L234.45,328.35 L234.69,328.67 L234.94,328.99 L235.19,329.29 L235.43,329.59 L235.68,329.87 L235.93,330.15 L236.17,330.41 L236.42,330.66 L236.67,330.91 L236.91,331.14 L237.16,331.35 L237.41,331.56 L237.65,331.76 L237.9,331.94 L238.15,332.12 L238.39,332.28 L238.64,332.43 L238.89,332.57 L239.13,332.69 L239.38,332.81 L239.63,332.91 L239.87,333 L240.12,333.08 L240.37,333.15 L240.61,333.2 L240.86,333.25 L241.11,333.28 L241.35,333.29 L241.6,333.3 L241.85,333.29 L242.09,333.28 L242.34,333.25 L242.59,333.2 L242.83,333.15 L243.08,333.08 L243.33,333 L243.57,332.91 L243.82,332.81 L244.07,332.69 L244.31,332.57 L244.56,332.43 L244.81,332.28 L245.05,332.12 L245.3,331.94 L245.55,331.76 L245.79,331.56 L246.04,331.35 L246.29,331.14 L246.53,330.91 L246.78,330.66 L247.03,330.41 L247.27,330.15 L247.52,329.87 L247.77,329.59 L248.01,329.29 L248.26,328.99 L248.51,328.67 L248.75,328.35 L249,328.01 L249.25,327.66 L249.49,327.31 L249.74,326.94 L249.99,326.57 L250.23,326.19 L250.48,325.79 L250.73,325.39 L250.97,324.98 L251.22,324.56 L251.47,324.13 L251.71,323.7 L251.96,323.26 L252.21,322.81 L252.45,322.35 L252.7,321.88 L252.95,321.41 L253.19,320.93 L253.44,320.44 L253.69,319.95 L253.93,319.45 L254.18,318.94 L254.43,318.43 L254.67,317.92 L254.92,317.39 L255.17,316.87 L255.41,316.33 L255.66,315.8 L255.91,315.26 L256.15,314.71 L256.4,314.16 L256.65,313.61 L256.89,313.05 L257.14,312.49 L257.39,311.93 L257.63,311.36 L257.88,310.79 L258.13,310.22 L258.37,309.65 L258.62,309.07 L258.87,308.5 L259.11,307.92 L259.36,307.34 L259.61,306.76 L259.85,306.18 L260.1,305.6 L260.35,305.02 L260.59,304.44 L260.84,303.86 L261.09,303.28 L261.33,302.7 L261.58,302.13 L261.83,301.55 L262.07,300.98 L262.32,300.41 L262.57,299.84 L262.81,299.27 L263.06,298.71 L263.31,298.15 L263.55,297.59 L263.8,297.04 L264.05,296.49 L264.29,295.94 L264.54,295.4 L264.79,294.87 L265.03,294.33 L265.28,293.81 L265.53,293.28 L265.77,292.77 L266.02,292.26 L266.27,291.75 L266.51,291.25 L266.76,290.76 L267.01,290.27 L267.25,289.79 L267.5,289.32 L267.75,288.85 L267.99,288.39 L268.24,287.94 L268.49,287.5 L268.73,287.07 L268.98,286.64 L269.23,286.22 L269.47,285.81 L269.72,285.41 L269.97,285.01 L270.21,284.63 L270.46,284.26 L270.71,283.89 L270.95,283.54 L271.2,283.19 L271.45,282.85 L271.69,282.53 L271.94,282.21 L272.19,281.91 L272.43,281.61 L272.68,281.33 L272.93,281.05 L273.17,280.79 L273.42,280.54 L273.67,280.29 L273.91,280.06 L274.16,279.85 L274.41,279.64 L274.65,279.44 L274.9,279.26 L275.15,279.08 L275.39,278.92 L275.64,278.77 L275.89,278.63 L276.13,278.51 L276.38,278.39 L276.63,278.29 L276.87,278.2 L277.12,278.12 L277.37,278.05 L277.61,278 L277.86,277.95 L278.11,277.92 L278.35,277.91 L278.6,277.9" fill="none" stroke="#141414" stroke-width="1.5" stroke-linejoin="round"/>
<text x="228.6" y="298.6" font-family="'Liberation Sans', sans-serif" font-size="10" font-weight="normal" font-style="italic" text-anchor="start" fill="#141414">V<tspan font-size="70%" font-style="normal" dy="1.2">g,t</tspan></text>
<text x="247.6" y="287.4" font-family="'Liberation Sans', sans-serif" font-size="10" font-weight="normal" font-style="italic" text-anchor="start" fill="#141414">V<tspan font-size="70%" font-style="normal" dy="1.2">g,cc</tspan></text>
<line x1="197.9" y1="381.7" x2="286.8" y2="381.7" stroke="#555" stroke-width="0.9"/>
<line x1="241.6" y1="340" x2="241.6" y2="381.7" stroke="#8a8a8a" stroke-width="1"/>
<text x="245.5" y="352" font-family="'Liberation Sans', sans-serif" font-size="10" font-weight="normal" font-style="normal" text-anchor="start" fill="#141414">ISF</text>
<path d="M204.6,381.5 L204.85,381.94 L205.09,382.38 L205.34,382.81 L205.59,383.25 L205.83,383.68 L206.08,384.12 L206.33,384.55 L206.57,384.99 L206.82,385.42 L207.07,385.85 L207.31,386.27 L207.56,386.7 L207.81,387.12 L208.05,387.54 L208.3,387.96 L208.55,388.37 L208.79,388.79 L209.04,389.19 L209.29,389.6 L209.53,390 L209.78,390.4 L210.03,390.79 L210.27,391.18 L210.52,391.57 L210.77,391.95 L211.01,392.33 L211.26,392.7 L211.51,393.07 L211.75,393.43 L212,393.78 L212.25,394.14 L212.49,394.48 L212.74,394.82 L212.99,395.16 L213.23,395.48 L213.48,395.81 L213.73,396.12 L213.97,396.43 L214.22,396.74 L214.47,397.03 L214.71,397.32 L214.96,397.6 L215.21,397.88 L215.45,398.15 L215.7,398.41 L215.95,398.66 L216.19,398.91 L216.44,399.15 L216.69,399.38 L216.93,399.6 L217.18,399.81 L217.43,400.02 L217.67,400.22 L217.92,400.41 L218.17,400.59 L218.41,400.77 L218.66,400.93 L218.91,401.09 L219.15,401.24 L219.4,401.38 L219.65,401.51 L219.89,401.63 L220.14,401.74 L220.39,401.85 L220.63,401.94 L220.88,402.03 L221.13,402.11 L221.37,402.18 L221.62,402.24 L221.87,402.29 L222.11,402.33 L222.36,402.36 L222.61,402.38 L222.85,402.4 L223.1,402.4 L223.35,402.4 L223.59,402.38 L223.84,402.36 L224.09,402.33 L224.33,402.29 L224.58,402.24 L224.83,402.18 L225.07,402.11 L225.32,402.03 L225.57,401.94 L225.81,401.85 L226.06,401.74 L226.31,401.63 L226.55,401.51 L226.8,401.38 L227.05,401.24 L227.29,401.09 L227.54,400.93 L227.79,400.77 L228.03,400.59 L228.28,400.41 L228.53,400.22 L228.77,400.02 L229.02,399.81 L229.27,399.6 L229.51,399.38 L229.76,399.15 L230.01,398.91 L230.25,398.66 L230.5,398.41 L230.75,398.15 L230.99,397.88 L231.24,397.6 L231.49,397.32 L231.73,397.03 L231.98,396.74 L232.23,396.43 L232.47,396.12 L232.72,395.81 L232.97,395.48 L233.21,395.16 L233.46,394.82 L233.71,394.48 L233.95,394.14 L234.2,393.78 L234.45,393.43 L234.69,393.07 L234.94,392.7 L235.19,392.33 L235.43,391.95 L235.68,391.57 L235.93,391.18 L236.17,390.79 L236.42,390.4 L236.67,390 L236.91,389.6 L237.16,389.19 L237.41,388.79 L237.65,388.37 L237.9,387.96 L238.15,387.54 L238.39,387.12 L238.64,386.7 L238.89,386.27 L239.13,385.85 L239.38,385.42 L239.63,384.99 L239.87,384.55 L240.12,384.12 L240.37,383.68 L240.61,383.25 L240.86,382.81 L241.11,382.38 L241.35,381.94 L241.6,381.5 L241.85,381.06 L242.09,380.62 L242.34,380.19 L242.59,379.75 L242.83,379.32 L243.08,378.88 L243.33,378.45 L243.57,378.01 L243.82,377.58 L244.07,377.15 L244.31,376.73 L244.56,376.3 L244.81,375.88 L245.05,375.46 L245.3,375.04 L245.55,374.63 L245.79,374.21 L246.04,373.81 L246.29,373.4 L246.53,373 L246.78,372.6 L247.03,372.21 L247.27,371.82 L247.52,371.43 L247.77,371.05 L248.01,370.67 L248.26,370.3 L248.51,369.93 L248.75,369.57 L249,369.22 L249.25,368.86 L249.49,368.52 L249.74,368.18 L249.99,367.84 L250.23,367.52 L250.48,367.19 L250.73,366.88 L250.97,366.57 L251.22,366.26 L251.47,365.97 L251.71,365.68 L251.96,365.4 L252.21,365.12 L252.45,364.85 L252.7,364.59 L252.95,364.34 L253.19,364.09 L253.44,363.85 L253.69,363.62 L253.93,363.4 L254.18,363.19 L254.43,362.98 L254.67,362.78 L254.92,362.59 L255.17,362.41 L255.41,362.23 L255.66,362.07 L255.91,361.91 L256.15,361.76 L256.4,361.62 L256.65,361.49 L256.89,361.37 L257.14,361.26 L257.39,361.15 L257.63,361.06 L257.88,360.97 L258.13,360.89 L258.37,360.82 L258.62,360.76 L258.87,360.71 L259.11,360.67 L259.36,360.64 L259.61,360.62 L259.85,360.6 L260.1,360.6 L260.35,360.6 L260.59,360.62 L260.84,360.64 L261.09,360.67 L261.33,360.71 L261.58,360.76 L261.83,360.82 L262.07,360.89 L262.32,360.97 L262.57,361.06 L262.81,361.15 L263.06,361.26 L263.31,361.37 L263.55,361.49 L263.8,361.62 L264.05,361.76 L264.29,361.91 L264.54,362.07 L264.79,362.23 L265.03,362.41 L265.28,362.59 L265.53,362.78 L265.77,362.98 L266.02,363.19 L266.27,363.4 L266.51,363.62 L266.76,363.85 L267.01,364.09 L267.25,364.34 L267.5,364.59 L267.75,364.85 L267.99,365.12 L268.24,365.4 L268.49,365.68 L268.73,365.97 L268.98,366.26 L269.23,366.57 L269.47,366.88 L269.72,367.19 L269.97,367.52 L270.21,367.84 L270.46,368.18 L270.71,368.52 L270.95,368.86 L271.2,369.22 L271.45,369.57 L271.69,369.93 L271.94,370.3 L272.19,370.67 L272.43,371.05 L272.68,371.43 L272.93,371.82 L273.17,372.21 L273.42,372.6 L273.67,373 L273.91,373.4 L274.16,373.81 L274.41,374.21 L274.65,374.63 L274.9,375.04 L275.15,375.46 L275.39,375.88 L275.64,376.3 L275.89,376.73 L276.13,377.15 L276.38,377.58 L276.63,378.01 L276.87,378.45 L277.12,378.88 L277.37,379.32 L277.61,379.75 L277.86,380.19 L278.11,380.62 L278.35,381.06 L278.6,381.5" fill="none" stroke="#141414" stroke-width="1.5" stroke-linejoin="round"/>
<path d="M241.6,381.5 L241.94,380.89 L242.29,380.28 L242.63,379.67 L242.98,379.06 L243.32,378.45 L243.67,377.85 L244.01,377.24 L244.36,376.65 L244.7,376.05 L245.05,375.46 L245.39,374.88 L245.74,374.3 L246.09,373.73 L246.43,373.17 L246.78,372.61 L247.12,372.06 L247.47,371.52 L247.81,370.98 L248.16,370.46 L248.5,369.94" fill="none" stroke="#e8343a" stroke-width="2" stroke-linejoin="round"/>
<line x1="241.6" y1="382" x2="241.6" y2="401" stroke="#e03a3a" stroke-width="0.8" stroke-dasharray="1.5,1.2"/>
<line x1="248.5" y1="382" x2="248.5" y2="401" stroke="#e03a3a" stroke-width="0.8" stroke-dasharray="1.5,1.2"/>
<line x1="236.8" y1="401.7" x2="238.5" y2="401.7" stroke="#e03a3a" stroke-width="0.9"/>
<path d="M241.2,401.7 L238,403.7 L238,399.7 Z" fill="#e03a3a"/>
<line x1="253" y1="401.7" x2="251.5" y2="401.7" stroke="#e03a3a" stroke-width="0.9"/>
<path d="M248.9,401.7 L252.1,399.7 L252.1,403.7 Z" fill="#e03a3a"/>
<text x="245.4" y="407.6" font-family="'Liberation Sans', sans-serif" font-size="8.5" font-weight="normal" font-style="italic" text-anchor="middle" fill="#e03a3a">t<tspan font-size="70%">d</tspan></text>
<line x1="241.9" y1="411.5" x2="241.9" y2="431" stroke="#999" stroke-width="0.9" stroke-dasharray="1.6,1.0"/>
<line x1="248.5" y1="415.7" x2="248.5" y2="431.2" stroke="#e03a3a" stroke-width="0.8"/>
<rect x="240.6" y="431.4" width="3.0" height="33.0" fill="#b4b4b4" stroke="#141414" stroke-width="1.4"/>
<rect x="246.9" y="431.4" width="3.9" height="33.0" fill="#fff" stroke="#e03a3a" stroke-width="0.8" stroke-dasharray="1.0,0.7"/>
<line x1="247" y1="433.2" x2="250.7" y2="433.2" stroke="#ea5a5a" stroke-width="0.7" stroke-dasharray="0.8,0.5"/>
<line x1="247" y1="434.95" x2="250.7" y2="434.95" stroke="#ea5a5a" stroke-width="0.7" stroke-dasharray="0.8,0.5"/>
<line x1="247" y1="436.7" x2="250.7" y2="436.7" stroke="#ea5a5a" stroke-width="0.7" stroke-dasharray="0.8,0.5"/>
<line x1="247" y1="438.45" x2="250.7" y2="438.45" stroke="#ea5a5a" stroke-width="0.7" stroke-dasharray="0.8,0.5"/>
<line x1="247" y1="440.2" x2="250.7" y2="440.2" stroke="#ea5a5a" stroke-width="0.7" stroke-dasharray="0.8,0.5"/>
<line x1="247" y1="441.95" x2="250.7" y2="441.95" stroke="#ea5a5a" stroke-width="0.7" stroke-dasharray="0.8,0.5"/>
<line x1="247" y1="443.7" x2="250.7" y2="443.7" stroke="#ea5a5a" stroke-width="0.7" stroke-dasharray="0.8,0.5"/>
<line x1="247" y1="445.45" x2="250.7" y2="445.45" stroke="#ea5a5a" stroke-width="0.7" stroke-dasharray="0.8,0.5"/>
<line x1="247" y1="447.2" x2="250.7" y2="447.2" stroke="#ea5a5a" stroke-width="0.7" stroke-dasharray="0.8,0.5"/>
<line x1="247" y1="448.95" x2="250.7" y2="448.95" stroke="#ea5a5a" stroke-width="0.7" stroke-dasharray="0.8,0.5"/>
<line x1="247" y1="450.7" x2="250.7" y2="450.7" stroke="#ea5a5a" stroke-width="0.7" stroke-dasharray="0.8,0.5"/>
<line x1="247" y1="452.45" x2="250.7" y2="452.45" stroke="#ea5a5a" stroke-width="0.7" stroke-dasharray="0.8,0.5"/>
<line x1="247" y1="454.2" x2="250.7" y2="454.2" stroke="#ea5a5a" stroke-width="0.7" stroke-dasharray="0.8,0.5"/>
<line x1="247" y1="455.95" x2="250.7" y2="455.95" stroke="#ea5a5a" stroke-width="0.7" stroke-dasharray="0.8,0.5"/>
<line x1="247" y1="457.7" x2="250.7" y2="457.7" stroke="#ea5a5a" stroke-width="0.7" stroke-dasharray="0.8,0.5"/>
<line x1="247" y1="459.45" x2="250.7" y2="459.45" stroke="#ea5a5a" stroke-width="0.7" stroke-dasharray="0.8,0.5"/>
<line x1="247" y1="461.2" x2="250.7" y2="461.2" stroke="#ea5a5a" stroke-width="0.7" stroke-dasharray="0.8,0.5"/>
<line x1="247" y1="462.95" x2="250.7" y2="462.95" stroke="#ea5a5a" stroke-width="0.7" stroke-dasharray="0.8,0.5"/>
<line x1="243.9" y1="424.7" x2="244.6" y2="424.7" stroke="#141414" stroke-width="0.8"/>
<path d="M246.6,424.7 L243.67,425.72 L244.49,422.42 Z" fill="#141414"/>
<text transform="translate(233,427.5) rotate(-90)" font-family="'Liberation Sans', sans-serif" font-size="10" font-weight="normal" font-style="italic" text-anchor="middle" fill="#141414" dominant-baseline="central">I<tspan font-size="70%" font-style="normal" dy="1.2">d,cc</tspan></text>
<line x1="197.9" y1="464.4" x2="286.8" y2="464.4" stroke="#141414" stroke-width="1.8"/>
<circle cx="204.6" cy="464.4" r="1.6" fill="#141414"/>
<circle cx="223.1" cy="464.4" r="1.6" fill="#141414"/>
<circle cx="260.1" cy="464.4" r="1.6" fill="#141414"/>
<circle cx="278.6" cy="464.4" r="1.6" fill="#141414"/>
<circle cx="241.6" cy="464.4" r="1.6" fill="#141414"/>
<text x="204.6" y="474.8" font-family="'Liberation Serif', serif" font-size="9.5" font-weight="normal" font-style="normal" text-anchor="middle" fill="#141414">&#960;</text>
<text x="223.1" y="474.8" font-family="'Liberation Serif', serif" font-size="9.5" font-weight="normal" font-style="normal" text-anchor="middle" fill="#141414">&#8722;&#8201;&#960;/2</text>
<text x="241.6" y="474.8" font-family="'Liberation Serif', serif" font-size="9.5" font-weight="normal" font-style="normal" text-anchor="middle" fill="#141414">0</text>
<text x="260.1" y="474.8" font-family="'Liberation Serif', serif" font-size="9.5" font-weight="normal" font-style="normal" text-anchor="middle" fill="#141414">&#960;/2</text>
<text x="278.6" y="474.8" font-family="'Liberation Serif', serif" font-size="9.5" font-weight="normal" font-style="normal" text-anchor="middle" fill="#141414">&#960;</text>
<text x="242.1" y="484.8" font-family="'Liberation Serif', serif" font-size="11.2" font-weight="bold" font-style="normal" text-anchor="middle" fill="#141414" stroke="#141414" stroke-width="0.16">Delay [rad]</text>
<defs><pattern id="hp" patternUnits="userSpaceOnUse" width="3" height="3" patternTransform="rotate(-45)"><line x1="0" y1="0" x2="0" y2="3" stroke="#c4c4c4" stroke-width="0.9"/></pattern></defs>
<rect x="511" y="275" width="24.4" height="189.2" fill="url(#hp)"/>
<line x1="400.6" y1="437.2" x2="535.74" y2="437.2" stroke="#7c7c7c" stroke-width="1.15" stroke-dasharray="1.2,2.65"/>
<line x1="400.6" y1="410.2" x2="535.74" y2="410.2" stroke="#7c7c7c" stroke-width="1.15" stroke-dasharray="1.2,2.65"/>
<line x1="400.6" y1="383.2" x2="535.74" y2="383.2" stroke="#7c7c7c" stroke-width="1.15" stroke-dasharray="1.2,2.65"/>
<line x1="400.6" y1="356.2" x2="535.74" y2="356.2" stroke="#7c7c7c" stroke-width="1.15" stroke-dasharray="1.2,2.65"/>
<line x1="400.6" y1="329.2" x2="535.74" y2="329.2" stroke="#7c7c7c" stroke-width="1.15" stroke-dasharray="1.2,2.65"/>
<line x1="400.6" y1="302.2" x2="535.74" y2="302.2" stroke="#7c7c7c" stroke-width="1.15" stroke-dasharray="1.2,2.65"/>
<line x1="417.23" y1="275.2" x2="417.23" y2="464.2" stroke="#7c7c7c" stroke-width="1.15" stroke-dasharray="1.2,2.65"/>
<line x1="434.16" y1="275.2" x2="434.16" y2="464.2" stroke="#7c7c7c" stroke-width="1.15" stroke-dasharray="1.2,2.65"/>
<line x1="451.09" y1="275.2" x2="451.09" y2="464.2" stroke="#7c7c7c" stroke-width="1.15" stroke-dasharray="1.2,2.65"/>
<line x1="468.02" y1="275.2" x2="468.02" y2="464.2" stroke="#7c7c7c" stroke-width="1.15" stroke-dasharray="1.2,2.65"/>
<line x1="484.95" y1="275.2" x2="484.95" y2="464.2" stroke="#7c7c7c" stroke-width="1.15" stroke-dasharray="1.2,2.65"/>
<line x1="501.88" y1="275.2" x2="501.88" y2="464.2" stroke="#7c7c7c" stroke-width="1.15" stroke-dasharray="1.2,2.65"/>
<line x1="518.81" y1="275.2" x2="518.81" y2="464.2" stroke="#7c7c7c" stroke-width="1.15" stroke-dasharray="1.2,2.65"/>
<line x1="400.6" y1="274.6" x2="400.6" y2="464.2" stroke="#141414" stroke-width="1.5"/>
<line x1="400.6" y1="464.2" x2="536.4" y2="464.2" stroke="#141414" stroke-width="1.7"/>
<circle cx="401.2" cy="464.2" r="1" fill="#141414"/>
<text x="396.2" y="467.1" font-family="'Liberation Sans', sans-serif" font-size="8.2" font-weight="normal" font-style="normal" text-anchor="end" fill="#2a2a2a">0</text>
<circle cx="401.2" cy="437.2" r="1" fill="#141414"/>
<text x="396.2" y="440.1" font-family="'Liberation Sans', sans-serif" font-size="8.2" font-weight="normal" font-style="normal" text-anchor="end" fill="#2a2a2a">5</text>
<circle cx="401.2" cy="410.2" r="1" fill="#141414"/>
<text x="396.2" y="413.1" font-family="'Liberation Sans', sans-serif" font-size="8.2" font-weight="normal" font-style="normal" text-anchor="end" fill="#2a2a2a">10</text>
<circle cx="401.2" cy="383.2" r="1" fill="#141414"/>
<text x="396.2" y="386.1" font-family="'Liberation Sans', sans-serif" font-size="8.2" font-weight="normal" font-style="normal" text-anchor="end" fill="#2a2a2a">15</text>
<circle cx="401.2" cy="356.2" r="1" fill="#141414"/>
<text x="396.2" y="359.1" font-family="'Liberation Sans', sans-serif" font-size="8.2" font-weight="normal" font-style="normal" text-anchor="end" fill="#2a2a2a">20</text>
<circle cx="401.2" cy="329.2" r="1" fill="#141414"/>
<text x="396.2" y="332.1" font-family="'Liberation Sans', sans-serif" font-size="8.2" font-weight="normal" font-style="normal" text-anchor="end" fill="#2a2a2a">25</text>
<circle cx="401.2" cy="302.2" r="1" fill="#141414"/>
<text x="396.2" y="305.1" font-family="'Liberation Sans', sans-serif" font-size="8.2" font-weight="normal" font-style="normal" text-anchor="end" fill="#2a2a2a">30</text>
<circle cx="401.2" cy="275.2" r="1" fill="#141414"/>
<text x="396.2" y="278.1" font-family="'Liberation Sans', sans-serif" font-size="8.2" font-weight="normal" font-style="normal" text-anchor="end" fill="#2a2a2a">35</text>
<circle cx="400.3" cy="463.4" r="1" fill="#141414"/>
<circle cx="468.02" cy="463.4" r="1" fill="#141414"/>
<circle cx="535.74" cy="463.4" r="1" fill="#141414"/>
<text x="399.7" y="476" font-family="'Liberation Serif', serif" font-size="9.2" font-weight="normal" font-style="normal" text-anchor="middle" fill="#141414">0</text>
<text x="469.5" y="475.9" font-family="'Liberation Sans', sans-serif" font-size="9.2" font-weight="normal" font-style="normal" text-anchor="middle" fill="#141414">&#960;/8</text>
<text x="532.5" y="475.9" font-family="'Liberation Sans', sans-serif" font-size="9.2" font-weight="normal" font-style="normal" text-anchor="middle" fill="#141414">&#960;/4</text>
<text x="470.3" y="484.6" font-family="'Liberation Serif', serif" font-size="8.3" font-weight="bold" font-style="normal" text-anchor="middle" fill="#141414" stroke="#141414" stroke-width="0.16">Delay <tspan font-style="italic" font-weight="normal">t</tspan><tspan font-style="italic" font-weight="normal" font-size="70%">d</tspan> [rad]</text>
<text transform="translate(378.9,372.1) rotate(-90)" font-family="'Liberation Serif', serif" font-size="8.65" font-weight="bold" font-style="normal" text-anchor="middle" fill="#141414" dominant-baseline="central">Phase Noise Degradation [dB]</text>
<path d="M400.3,457.6 L403.45,464.2 L397.15,464.2 Z" fill="#141414"/>
<path d="M400.3,458.5 L403.3,462.2 L400.3,465.9 L397.3,462.2 Z" fill="#141414"/>
<rect x="397.5" y="459.9" width="5.6" height="5.6" fill="#141414"/>
<path d="M417.23,457.6 L420.38,464.2 L414.08,464.2 Z" fill="#141414"/>
<path d="M417.23,458.5 L420.23,462.2 L417.23,465.9 L414.23,462.2 Z" fill="#141414"/>
<rect x="414.43" y="454.92" width="5.6" height="5.6" fill="#141414"/>
<path d="M434.16,457.6 L437.31,464.2 L431.01,464.2 Z" fill="#141414"/>
<path d="M434.16,456.72 L437.16,460.42 L434.16,464.12 L431.16,460.42 Z" fill="#141414"/>
<rect x="431.36" y="445.47" width="5.6" height="5.6" fill="#141414"/>
<path d="M451.09,457.6 L454.24,464.2 L447.94,464.2 Z" fill="#141414"/>
<path d="M451.09,448.89 L454.09,452.59 L451.09,456.29 L448.09,452.59 Z" fill="#141414"/>
<rect x="448.29" y="426.03" width="5.6" height="5.6" fill="#141414"/>
<path d="M468.02,454.22 L471.17,460.82 L464.87,460.82 Z" fill="#141414"/>
<path d="M468.02,442.14 L471.02,445.84 L468.02,449.54 L465.02,445.84 Z" fill="#141414"/>
<rect x="465.22" y="412.8" width="5.6" height="5.6" fill="#141414"/>
<path d="M484.95,439.64 L488.1,446.24 L481.8,446.24 Z" fill="#141414"/>
<path d="M484.95,410.28 L487.95,413.98 L484.95,417.68 L481.95,413.98 Z" fill="#141414"/>
<rect x="482.15" y="370.95" width="5.6" height="5.6" fill="#141414"/>
<path d="M501.88,404 L505.03,410.6 L498.73,410.6 Z" fill="#141414"/>
<path d="M501.88,364.38 L504.88,368.08 L501.88,371.78 L498.88,368.08 Z" fill="#141414"/>
<rect x="499.08" y="322.08" width="5.6" height="5.6" fill="#141414"/>
<rect x="414.43" y="459" width="5.6" height="5.6" fill="#141414"/>
<rect x="407.5" y="279.5" width="45" height="33" fill="#fff"/>
<rect x="409.9" y="283.2" width="5.6" height="5.6" fill="#141414"/>
<path d="M412.7,292.8 L415.7,296.5 L412.7,300.2 L409.7,296.5 Z" fill="#141414"/>
<path d="M412.7,303.3 L415.85,309.9 L409.55,309.9 Z" fill="#141414"/>
<text x="417.3" y="289.2" font-family="'Liberation Sans', sans-serif" font-size="8.7" font-weight="normal" font-style="normal" text-anchor="start" fill="#141414">10kHz</text>
<text x="417.3" y="299.7" font-family="'Liberation Sans', sans-serif" font-size="8.7" font-weight="normal" font-style="normal" text-anchor="start" fill="#141414">100kHz</text>
<text x="417.3" y="310" font-family="'Liberation Sans', sans-serif" font-size="8.7" font-weight="normal" font-style="normal" text-anchor="start" fill="#141414">1000kHz</text>
<rect x="517.6" y="340.5" width="10.6" height="57" fill="#fff"/>
<path d="M514.6,334.9 L527.4,334.9 L527.4,333 L533.6,336.9 L527.4,340.8 L527.4,338.9 L514.6,338.9 Z" fill="#141414"/>
<path d="M514.6,398.2 L527.4,398.2 L527.4,396.3 L533.6,400.2 L527.4,404.1 L527.4,402.2 L514.6,402.2 Z" fill="#141414"/>
<text transform="translate(526.5,369.0) rotate(-90)" font-family="'Liberation Sans', sans-serif" font-size="9.0" text-anchor="middle" fill="#141414">No Oscillation</text>
<text x="155.5" y="250.4" font-family="'Liberation Sans', sans-serif" font-size="11.5" font-weight="normal" font-style="normal" text-anchor="middle" fill="#141414">(<tspan font-weight="bold">a</tspan>)</text>
<text x="457.8" y="250.4" font-family="'Liberation Serif', serif" font-size="11.5" font-weight="normal" font-style="normal" text-anchor="middle" fill="#141414">(<tspan font-weight="bold">b</tspan>)</text>
<text x="155" y="516.9" font-family="'Liberation Serif', serif" font-size="11.5" font-weight="normal" font-style="normal" text-anchor="middle" fill="#141414">(<tspan font-weight="bold">c</tspan>)</text>
<text x="458" y="517.5" font-family="'Liberation Serif', serif" font-size="11.5" font-weight="normal" font-style="normal" text-anchor="middle" fill="#141414">(<tspan font-weight="bold">d</tspan>)</text>
</svg>
</body></html>
